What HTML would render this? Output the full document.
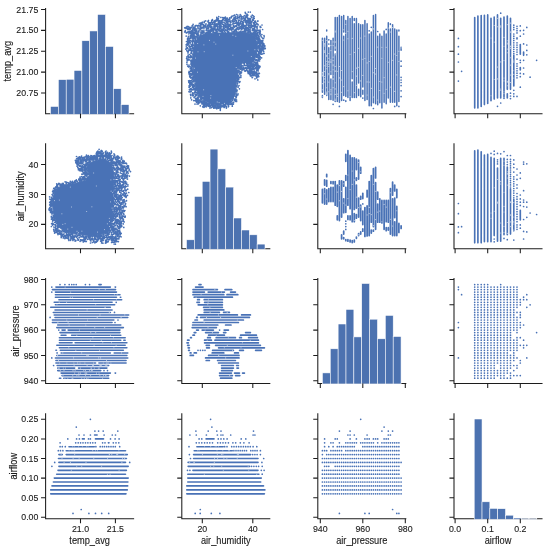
<!DOCTYPE html>
<html><head><meta charset="utf-8"><title>pairplot</title>
<style>html,body{margin:0;padding:0;background:#fff}svg text{font-family:"Liberation Sans",Arial,sans-serif;fill:#1c1c1c;stroke:#1c1c1c;stroke-width:.12px}</style>
</head><body><svg width="546" height="550" viewBox="0 0 546 550" style="display:block"><rect width="546" height="550" fill="#fff"/><path d="M45.60 8.60V113.80H133.60" fill="none" stroke="#1c1c1c" stroke-width="1.05" stroke-linecap="square"/><rect x="50.50" y="106.45" width="7.85" height="7.90" fill="#4c72b0" stroke="#fff" stroke-width=".55"/><rect x="58.35" y="79.65" width="7.85" height="34.70" fill="#4c72b0" stroke="#fff" stroke-width=".55"/><rect x="66.20" y="79.25" width="7.85" height="35.10" fill="#4c72b0" stroke="#fff" stroke-width=".55"/><rect x="74.05" y="70.45" width="7.85" height="43.90" fill="#4c72b0" stroke="#fff" stroke-width=".55"/><rect x="81.90" y="40.75" width="7.85" height="73.60" fill="#4c72b0" stroke="#fff" stroke-width=".55"/><rect x="89.75" y="30.95" width="7.85" height="83.40" fill="#4c72b0" stroke="#fff" stroke-width=".55"/><rect x="97.60" y="14.45" width="7.85" height="99.90" fill="#4c72b0" stroke="#fff" stroke-width=".55"/><rect x="105.45" y="46.45" width="7.85" height="67.90" fill="#4c72b0" stroke="#fff" stroke-width=".55"/><rect x="113.30" y="88.75" width="7.85" height="25.60" fill="#4c72b0" stroke="#fff" stroke-width=".55"/><rect x="121.15" y="104.65" width="7.85" height="9.70" fill="#4c72b0" stroke="#fff" stroke-width=".55"/><path d="M80.50 113.80v4.55M115.40 113.80v4.55M45.60 92.97h-4.55M45.60 72.10h-4.55M45.60 51.22h-4.55M45.60 30.35h-4.55M45.60 9.47h-4.55" stroke="#1c1c1c" stroke-width="1.05" fill="none"/><text transform="translate(38.35 96.08) scale(1 1.08)" text-anchor="end" font-size="8.8">20.75</text><text transform="translate(38.35 75.20) scale(1 1.08)" text-anchor="end" font-size="8.8">21.00</text><text transform="translate(38.35 54.33) scale(1 1.08)" text-anchor="end" font-size="8.8">21.25</text><text transform="translate(38.35 33.45) scale(1 1.08)" text-anchor="end" font-size="8.8">21.50</text><text transform="translate(38.35 12.58) scale(1 1.08)" text-anchor="end" font-size="8.8">21.75</text><text transform="translate(11.4 61.20) rotate(-90) scale(1 1.08)" text-anchor="middle" font-size="9.25">temp_avg</text><path d="M181.80 8.60V113.80H269.80" fill="none" stroke="#1c1c1c" stroke-width="1.05" stroke-linecap="square"/><path d="M210.6 25.2h0M191.0 53.3h0M231.7 101.6h0M192.6 36.8h0M196.1 28.9h0M189.3 32.3h0M193.7 47.8h0M195.2 36.8h0M228.2 25.0h0M217.4 106.9h0M253.7 22.6h0M254.0 32.6h0M196.0 100.8h0M244.7 19.8h0M246.5 67.8h0M237.2 85.1h0M190.7 95.6h0M192.3 94.4h0M202.7 102.5h0M254.9 73.8h0M198.0 28.7h0M203.0 103.3h0M188.8 38.5h0M260.0 58.7h0M209.1 24.6h0M225.8 30.3h0M217.4 31.8h0M212.8 28.5h0M215.4 105.6h0M189.8 29.6h0M191.0 60.3h0M240.6 21.8h0M195.4 100.6h0M209.3 24.8h0M263.7 47.5h0M191.6 70.9h0M195.1 32.4h0M251.8 66.6h0M214.2 29.6h0M261.0 52.7h0M223.9 26.9h0M228.7 106.1h0M197.8 33.2h0M193.2 33.3h0M225.2 32.5h0M190.6 55.5h0M190.3 84.4h0M247.3 14.3h0M192.4 48.1h0M194.3 29.8h0M252.6 28.8h0M258.8 46.0h0M256.5 53.7h0M263.0 45.7h0M253.5 74.1h0M247.7 32.1h0M257.2 73.9h0M189.4 89.5h0M257.8 34.4h0M245.2 28.1h0M246.1 20.4h0M230.2 24.2h0M190.2 68.8h0M187.7 38.4h0M228.6 31.6h0M194.6 88.7h0M221.2 29.2h0M251.1 23.2h0M196.1 100.7h0M260.0 66.4h0M198.2 104.0h0M253.6 68.7h0M218.0 20.0h0M252.7 19.7h0M257.9 60.4h0M237.6 75.3h0M262.7 46.4h0M192.3 74.6h0M256.8 59.8h0M200.6 28.8h0M260.0 56.5h0M224.6 25.8h0M203.4 24.6h0M223.2 19.2h0M196.8 33.4h0M195.3 100.7h0M212.4 104.8h0M214.2 24.5h0M195.1 27.0h0M234.6 31.5h0M259.5 61.0h0M258.7 39.2h0M257.2 42.1h0M244.5 30.2h0M248.3 24.8h0M193.6 40.7h0M191.3 65.1h0M238.7 29.6h0M256.0 34.2h0M251.3 27.2h0M186.8 50.6h0M246.0 26.7h0M236.5 96.5h0M246.3 70.4h0M190.5 49.3h0M255.7 64.2h0M259.8 54.0h0M227.0 30.7h0M219.3 23.9h0M189.8 27.3h0M254.1 16.5h0M258.0 41.3h0M258.5 59.2h0M214.6 29.1h0M192.1 65.6h0M193.2 95.7h0M190.9 27.5h0M191.6 68.8h0M188.7 42.6h0M257.0 23.9h0M196.6 31.3h0M188.4 36.3h0M228.2 106.8h0M238.7 72.1h0M192.4 40.3h0M206.8 29.3h0M247.0 15.9h0M191.8 60.6h0M239.8 74.1h0M198.5 95.9h0M225.6 27.5h0M239.7 27.8h0M193.8 27.8h0M258.2 36.8h0M245.5 19.6h0M249.7 23.8h0M259.8 67.0h0M258.9 73.3h0M186.0 28.3h0M256.7 57.1h0M211.9 104.7h0M197.0 36.9h0M235.4 16.3h0M192.8 28.9h0M193.6 86.1h0M247.0 21.4h0M206.4 28.6h0M244.4 63.9h0M253.4 17.9h0M258.4 55.4h0M241.7 65.3h0M254.7 21.4h0M256.8 36.8h0M253.0 30.0h0M190.1 73.5h0M196.5 36.7h0M212.4 107.0h0M229.4 19.3h0M226.8 19.6h0M226.0 26.5h0M200.6 25.1h0M250.8 68.1h0M197.2 37.4h0M218.1 20.7h0M196.6 94.5h0M216.8 17.4h0M190.2 36.9h0M257.4 50.6h0M254.4 26.7h0M255.5 64.5h0M240.2 68.0h0M210.8 24.2h0M246.4 27.9h0M209.9 108.0h0M210.1 24.5h0M189.0 65.0h0M237.7 80.3h0M197.8 99.5h0M254.3 24.1h0M193.9 81.2h0M189.1 71.4h0M237.1 24.6h0M189.9 60.0h0M207.2 28.8h0M187.6 41.8h0M192.4 71.4h0M244.3 15.7h0M234.7 19.4h0M204.0 107.3h0M207.3 26.0h0M256.7 66.2h0M222.0 22.0h0M256.6 53.9h0M208.3 20.7h0M203.6 100.9h0M252.8 65.9h0M239.1 70.8h0M239.2 69.0h0M194.9 92.1h0M192.8 34.8h0M219.2 22.3h0M257.9 20.9h0M197.8 99.5h0M245.1 17.9h0M221.4 26.0h0M263.7 51.3h0M215.2 26.7h0M204.2 22.3h0M240.4 28.1h0M220.3 109.7h0M260.3 33.0h0M249.1 23.8h0M253.8 75.0h0M235.6 96.6h0M191.4 27.5h0M252.3 34.6h0M194.5 29.6h0M260.0 32.4h0M196.8 31.5h0M229.0 24.7h0M250.6 21.4h0M191.5 56.3h0M187.5 39.1h0M187.2 26.5h0M195.5 98.6h0M250.6 71.0h0M193.3 32.8h0M205.0 101.8h0M257.0 66.7h0M213.6 31.1h0M214.2 105.4h0M225.7 26.8h0M222.7 19.6h0M193.0 54.7h0M224.2 107.4h0M217.6 24.7h0M228.0 104.9h0M252.3 25.5h0M232.3 106.2h0M193.2 27.9h0M243.9 28.6h0M244.9 15.8h0M194.1 29.1h0M220.4 108.2h0M256.4 62.6h0M193.9 87.4h0M221.2 107.0h0M244.6 31.4h0M217.0 107.9h0M246.0 22.8h0M225.4 17.2h0M195.2 94.4h0M204.9 106.1h0M192.4 87.4h0M237.5 78.7h0M188.1 55.2h0M254.8 35.5h0M256.7 77.9h0M226.4 26.4h0M190.9 61.8h0M223.2 24.6h0M238.9 24.9h0M203.4 105.3h0M201.1 32.7h0M237.6 81.8h0M212.4 19.6h0M219.9 28.8h0M259.6 56.1h0M240.8 73.6h0M260.1 33.4h0M255.8 34.6h0M200.5 101.1h0M192.0 77.4h0M216.8 25.4h0M260.3 54.0h0M257.9 30.4h0M189.6 74.7h0M208.6 103.6h0M236.6 100.0h0M258.6 47.7h0M216.9 26.5h0M248.3 68.5h0M193.7 33.1h0M217.7 106.4h0M213.8 29.2h0M192.7 66.3h0M256.6 31.5h0M260.4 40.4h0M196.4 33.1h0M228.0 23.2h0M234.7 99.1h0M238.6 17.7h0M191.3 62.4h0M231.4 17.7h0M234.5 30.3h0M238.4 21.0h0M187.7 29.4h0M258.9 36.5h0M197.0 25.7h0M259.6 48.6h0M190.5 82.5h0M243.0 66.1h0M248.2 73.4h0M236.3 94.8h0M252.4 77.4h0M190.7 56.7h0M235.4 16.5h0M217.6 18.7h0M226.4 108.1h0M188.8 44.4h0M255.3 31.7h0M254.2 18.3h0M260.2 27.4h0M250.3 64.3h0M191.9 61.1h0M239.0 85.6h0M215.5 21.6h0M197.1 94.5h0M251.8 70.5h0M208.7 33.1h0M191.1 44.6h0M245.9 21.5h0M208.7 31.3h0M257.0 42.0h0M214.9 23.0h0M212.4 22.9h0M257.3 30.0h0M191.7 89.8h0M189.9 81.2h0M231.1 24.8h0M245.5 13.3h0M230.8 101.6h0M246.5 15.7h0M235.1 19.7h0M192.8 34.7h0M219.6 107.7h0M253.4 67.3h0M195.3 36.3h0M260.0 41.0h0M211.0 30.1h0M196.8 34.8h0M208.9 23.7h0M194.1 27.3h0M259.8 44.0h0M258.6 45.4h0M247.8 67.8h0M248.3 25.4h0M211.7 104.3h0M258.5 36.3h0M188.8 82.2h0M247.7 71.8h0M254.5 65.1h0M190.6 57.3h0M243.5 62.7h0M260.3 40.5h0M235.6 29.4h0M257.9 74.9h0M216.6 31.1h0M202.4 102.9h0M190.0 90.1h0M198.6 25.4h0M197.8 35.2h0M189.5 31.9h0M188.2 28.0h0M233.0 15.9h0M206.8 105.2h0M204.9 25.5h0M258.6 68.7h0M197.9 35.6h0M260.3 57.1h0M250.0 32.0h0M202.3 100.7h0M190.5 49.9h0M228.4 19.6h0M257.8 21.2h0M194.1 33.2h0M249.9 68.3h0M237.1 28.2h0M191.1 75.4h0M233.5 21.4h0M239.2 68.4h0M212.6 29.5h0M190.9 56.9h0M192.4 70.1h0M240.9 75.6h0M258.8 65.5h0M242.1 25.1h0M196.2 99.8h0M227.0 21.1h0M261.7 43.7h0M241.2 18.6h0M196.2 101.5h0M264.1 48.1h0M257.6 39.9h0M189.6 83.0h0M262.9 49.9h0M240.7 73.0h0M242.8 26.6h0M202.4 22.3h0M201.4 24.8h0M217.0 108.6h0M189.3 59.9h0M228.0 28.1h0M246.7 17.5h0M205.6 33.3h0M191.2 63.5h0M258.6 39.4h0M223.1 19.8h0M258.5 36.1h0M242.3 21.4h0M255.3 35.3h0M250.4 69.0h0M194.3 86.3h0M243.9 28.6h0M240.1 16.6h0M242.3 26.5h0M255.0 78.8h0M202.0 104.0h0M237.8 23.7h0M225.0 30.8h0M237.8 15.1h0M243.5 31.5h0M192.9 37.5h0M248.8 28.2h0M211.7 28.3h0M258.4 41.8h0M247.4 28.8h0M195.4 25.7h0M251.1 65.2h0M189.8 84.4h0M207.9 30.5h0M240.0 81.7h0M248.0 68.1h0M192.1 89.9h0M188.4 51.4h0M212.9 32.1h0M195.0 93.9h0M192.1 79.9h0M191.8 53.2h0M250.8 26.0h0M239.7 27.4h0M190.4 40.7h0M260.0 66.7h0M243.5 67.3h0M215.4 24.1h0M201.1 30.7h0M225.7 19.6h0M201.8 24.2h0M203.9 28.7h0M249.0 65.9h0M193.3 87.8h0M258.9 40.0h0M238.1 28.0h0M256.0 33.6h0M188.4 37.5h0M201.6 27.9h0M196.7 101.3h0M215.4 32.7h0M210.4 106.1h0M225.8 17.9h0M260.6 49.7h0M254.2 66.1h0M246.7 24.2h0M250.1 29.5h0M248.9 22.0h0M217.4 29.4h0M211.2 26.3h0M193.7 27.7h0M260.7 44.5h0M191.4 50.0h0M262.4 47.2h0M248.8 30.2h0M253.1 74.0h0M241.0 21.0h0M247.2 67.9h0M239.7 28.7h0M189.9 47.4h0M191.8 74.5h0M248.2 30.7h0M204.9 105.3h0M197.6 98.5h0M190.2 66.8h0M259.6 43.1h0M232.3 104.8h0M250.2 20.6h0M208.4 30.8h0M263.2 53.3h0M192.0 33.9h0M240.2 22.6h0M220.2 22.0h0M191.7 41.0h0M253.0 65.9h0M217.1 108.0h0M195.0 104.1h0M243.3 24.2h0M246.3 65.6h0M254.1 62.6h0M219.4 26.1h0M254.2 33.3h0M254.3 66.1h0M216.0 25.9h0M247.6 64.2h0M220.4 106.2h0M264.1 53.3h0M198.9 35.2h0M193.3 76.7h0M200.3 23.5h0M196.5 100.5h0M259.4 38.3h0M218.4 23.1h0M243.9 68.4h0M261.2 45.9h0M236.8 90.8h0M265.3 48.4h0M257.0 69.2h0M242.0 70.6h0M208.4 28.4h0M192.5 72.4h0M188.8 33.8h0M261.0 36.0h0M221.2 29.3h0M206.2 106.8h0M207.9 21.7h0M192.0 67.7h0M213.3 29.5h0M232.3 20.7h0M205.6 106.2h0M191.1 32.2h0M187.6 32.2h0M240.9 71.8h0M200.5 101.3h0M187.0 41.5h0M242.4 27.6h0M227.8 24.1h0M190.2 86.2h0M252.1 77.6h0M252.1 70.9h0M192.7 60.3h0M254.6 23.9h0M206.8 27.0h0M205.7 20.9h0M244.7 65.5h0M250.6 19.1h0M202.4 34.0h0M239.4 25.0h0M188.5 38.8h0M240.5 23.8h0M248.1 20.2h0M232.4 100.3h0M219.6 23.3h0M238.3 24.8h0M230.1 104.3h0M195.6 29.0h0M257.8 54.7h0M191.0 60.5h0M237.4 18.6h0M190.4 83.4h0M252.3 26.2h0M211.2 27.2h0M194.7 32.4h0M259.8 53.4h0M258.4 51.8h0M243.9 68.3h0M256.6 77.3h0M216.9 29.7h0M189.9 77.1h0M239.5 73.7h0M250.1 31.3h0M197.7 100.9h0M254.5 71.2h0M251.4 70.6h0M239.1 28.2h0M263.0 38.5h0M249.1 31.6h0M192.5 83.8h0M228.2 29.6h0M256.8 54.0h0M218.7 108.2h0M257.3 60.9h0M222.0 22.7h0M224.1 25.3h0M200.9 35.1h0M219.4 27.6h0M223.0 32.3h0M196.6 102.2h0M204.9 32.8h0M221.0 106.9h0M255.8 30.1h0M241.6 66.1h0M196.8 37.1h0M233.4 25.4h0M249.2 29.8h0M211.2 105.3h0M189.5 83.3h0M188.6 28.8h0M238.3 78.4h0M196.7 30.3h0M196.0 91.6h0M212.3 20.3h0M240.6 31.6h0M259.4 46.3h0M255.8 38.2h0M243.1 68.6h0M256.9 35.0h0M240.2 72.1h0M259.5 42.0h0M223.0 22.0h0M230.9 22.4h0M205.5 26.1h0M225.3 18.3h0M192.7 70.1h0M260.5 45.6h0M192.6 42.7h0M208.3 27.0h0M243.1 16.9h0M213.1 105.7h0M234.3 23.4h0M194.6 36.1h0M216.0 20.9h0M258.8 66.7h0M203.9 102.8h0M259.0 42.5h0M249.5 18.7h0M197.9 26.2h0M254.5 31.2h0M205.9 24.8h0M243.2 23.1h0M257.5 41.8h0M248.9 67.1h0M260.1 26.3h0M219.1 28.6h0M193.0 50.0h0M258.0 24.7h0M224.3 106.8h0M258.9 60.9h0M245.9 25.9h0M190.9 32.3h0M258.4 75.6h0M245.5 68.4h0M235.8 18.3h0M225.1 25.4h0M195.5 37.1h0M253.8 71.6h0M252.9 69.2h0M227.4 20.1h0M210.9 29.4h0M192.5 77.7h0M245.5 25.6h0M246.6 16.3h0M212.2 104.4h0M193.1 76.0h0M192.5 78.5h0M253.8 29.2h0M251.0 32.6h0M204.4 103.7h0M261.7 41.4h0M201.7 34.4h0M194.1 35.5h0M212.8 106.8h0M186.7 26.9h0M202.7 33.4h0M203.6 24.8h0M187.8 39.8h0M247.6 66.3h0M245.6 29.0h0M246.1 68.2h0M187.5 42.0h0M193.6 81.4h0M215.3 25.2h0M236.8 91.8h0M204.2 102.7h0M247.3 27.7h0M190.4 33.0h0M211.5 22.0h0M188.0 52.9h0M194.9 27.3h0M240.0 23.1h0M258.1 70.0h0M262.6 29.5h0M224.9 20.7h0M236.4 31.2h0M195.5 30.4h0M250.7 27.9h0M223.6 19.6h0M191.8 82.6h0M245.2 12.3h0M203.8 101.2h0M259.1 32.7h0M218.8 21.6h0M233.0 28.3h0M253.7 65.8h0M230.7 27.0h0M206.4 103.2h0M222.8 19.9h0M200.3 28.4h0M216.5 24.2h0M189.1 57.2h0M237.3 80.9h0M199.5 28.8h0M253.7 63.7h0M192.5 93.1h0M261.4 48.2h0M210.2 23.0h0M255.9 75.3h0M189.0 46.4h0M253.9 69.5h0M256.8 33.9h0M202.4 100.4h0M218.6 20.0h0M261.3 51.7h0M248.7 18.9h0M188.3 29.3h0M227.3 30.9h0M220.4 26.9h0M216.0 105.5h0M200.9 26.9h0M214.5 106.2h0M241.8 24.9h0M194.1 97.4h0M209.2 105.1h0M186.2 36.1h0M219.4 25.2h0M198.3 103.3h0M250.4 63.8h0M246.5 63.1h0M225.0 29.3h0M250.2 65.3h0M256.0 26.3h0M253.6 29.3h0M255.5 32.3h0M192.7 84.6h0M190.3 28.9h0M203.3 103.6h0M192.2 38.4h0M239.3 17.6h0M189.0 57.1h0M214.3 106.1h0M198.2 33.8h0M225.1 105.1h0M238.2 22.4h0M191.0 34.3h0M258.4 73.4h0M262.3 43.0h0M257.2 32.5h0M256.5 65.5h0M236.5 23.5h0M253.1 35.0h0M254.6 64.5h0M220.6 28.8h0M257.6 64.2h0M250.9 33.4h0M220.7 25.8h0M188.8 43.0h0M258.2 68.5h0M202.0 28.6h0M194.4 92.5h0M255.3 22.4h0M249.9 71.0h0M243.1 28.1h0M192.6 32.1h0M192.3 50.4h0M191.0 48.8h0M218.2 22.8h0M213.9 32.4h0M241.9 29.5h0M259.0 42.9h0M258.4 66.1h0M196.3 100.0h0M206.2 30.6h0M245.1 28.1h0M230.2 21.1h0M188.3 29.6h0M190.5 77.2h0M202.7 106.8h0M215.7 32.0h0M224.7 106.2h0M250.7 33.5h0M259.6 38.8h0M240.3 77.1h0M232.9 99.2h0M247.6 65.6h0M191.2 73.9h0M187.6 60.4h0M237.0 23.4h0M201.5 101.6h0M232.1 29.2h0M261.6 43.4h0M259.0 39.4h0M208.5 20.6h0M252.7 33.0h0M246.7 25.0h0M249.5 74.1h0M192.5 95.7h0M254.4 71.3h0M202.4 24.5h0M218.6 29.9h0M262.0 25.0h0M258.1 37.1h0M194.2 79.9h0M251.4 71.6h0M194.4 30.2h0M241.7 67.6h0M187.2 26.4h0M224.4 105.2h0M219.0 30.8h0M226.2 22.7h0M226.3 106.7h0M222.1 106.3h0M202.4 102.7h0M188.1 58.8h0M214.7 21.9h0M211.7 20.4h0M249.0 26.2h0M254.9 65.6h0M254.3 31.0h0M192.8 30.7h0M193.5 81.5h0M232.8 103.1h0M201.0 28.4h0M207.4 32.8h0M189.8 57.7h0M214.0 21.6h0M257.3 37.6h0M262.7 47.8h0M247.9 71.2h0M258.5 66.6h0M221.2 30.6h0M255.1 36.5h0M227.7 23.4h0M235.7 16.8h0M216.7 32.7h0M257.8 76.5h0M254.6 28.8h0M258.3 67.3h0M210.1 27.6h0M223.4 26.5h0M252.3 64.5h0M256.9 23.6h0M231.6 16.3h0M256.5 36.1h0M253.2 66.0h0M255.9 68.7h0M254.0 35.2h0M260.0 46.4h0M217.0 19.6h0M261.9 34.5h0M259.3 30.7h0M253.0 19.6h0M202.3 32.4h0M204.5 105.2h0M209.8 25.6h0M203.4 32.7h0M241.1 67.0h0M261.8 42.6h0M188.6 67.0h0M201.9 27.7h0M190.1 31.4h0M258.2 57.2h0M190.8 70.7h0M191.5 83.6h0M258.1 46.2h0M242.0 28.2h0M209.5 33.1h0M214.6 23.6h0M247.2 17.1h0M220.3 106.5h0M248.5 22.8h0M260.0 47.6h0M209.1 25.2h0M257.3 50.5h0M253.8 32.8h0M192.1 68.2h0M264.4 45.3h0M221.7 32.1h0M262.0 40.5h0M195.1 27.1h0M256.9 27.8h0M220.9 31.4h0M262.9 45.0h0M195.3 91.9h0M213.9 26.3h0M247.2 27.9h0M263.3 48.8h0M261.3 54.2h0M258.6 66.9h0M214.7 29.1h0M254.4 75.1h0M239.4 77.4h0M192.3 82.0h0M197.4 33.8h0M191.4 60.5h0M262.0 50.8h0M229.6 24.4h0M189.3 39.1h0M254.5 27.6h0M234.3 21.3h0M195.7 95.8h0M252.3 66.0h0M257.7 67.3h0M256.7 62.9h0M237.1 90.2h0M236.1 93.7h0M241.7 68.4h0M242.9 68.6h0M235.6 99.3h0M211.7 28.3h0M236.4 85.9h0M239.3 82.5h0M234.4 100.4h0M207.8 25.2h0M238.5 81.2h0M205.5 27.0h0M251.3 26.0h0M191.0 53.3h0M217.6 105.8h0M258.6 40.9h0M198.2 103.4h0M206.7 102.6h0M220.3 31.3h0M256.6 60.5h0M211.6 22.4h0M192.7 64.4h0M227.6 32.1h0M221.1 23.1h0M189.6 49.9h0M234.5 27.1h0M236.0 23.1h0M191.3 32.2h0M192.7 92.9h0M193.7 77.5h0M253.1 15.8h0M237.3 22.8h0M229.3 28.4h0M245.4 17.1h0M216.7 19.2h0M191.4 31.9h0M238.6 79.1h0M253.3 73.9h0M259.2 50.0h0M256.6 23.4h0M206.0 23.8h0M194.4 38.2h0M256.3 73.9h0M241.8 27.3h0M189.8 32.7h0M258.1 68.5h0M257.7 60.9h0M250.3 23.1h0M238.2 87.1h0M187.1 43.6h0M257.0 50.1h0M184.7 31.9h0M260.6 52.6h0M192.1 50.5h0M220.9 28.0h0M212.7 106.2h0M256.3 30.5h0M190.0 50.1h0M201.3 102.2h0M258.9 40.2h0M203.0 106.5h0M230.0 102.2h0M258.6 73.7h0M231.2 17.1h0M241.1 19.3h0M193.8 32.0h0M192.8 41.5h0M210.4 29.9h0M229.0 21.5h0M216.7 108.7h0M251.7 68.4h0M192.4 41.2h0M253.4 32.7h0M195.6 94.7h0M219.3 22.0h0M234.6 17.4h0M189.3 74.4h0M230.5 28.3h0M193.1 24.4h0M258.1 24.5h0M218.5 24.4h0M242.7 23.7h0M243.8 20.6h0M223.0 28.9h0M200.2 28.4h0M219.4 22.6h0M243.4 25.5h0M217.0 21.0h0M223.3 29.1h0M218.8 16.7h0M224.0 17.6h0M217.3 26.6h0M264.0 35.6h0M250.1 74.2h0M233.5 27.0h0M233.3 31.5h0M241.0 28.5h0M259.2 59.4h0M228.4 32.0h0M213.3 30.7h0M220.6 24.6h0M257.6 34.7h0M192.0 57.3h0M191.8 68.9h0M238.0 27.3h0M190.0 48.8h0M255.8 60.4h0M263.6 38.6h0M190.9 63.9h0M205.7 104.4h0M200.3 105.8h0M250.1 64.4h0M255.6 62.7h0M250.5 32.2h0M228.0 23.2h0M193.2 93.8h0M242.5 26.9h0M189.5 42.6h0M223.8 26.1h0M264.2 48.2h0M188.6 56.7h0M188.5 44.6h0M257.6 32.8h0M189.5 54.5h0M193.2 80.1h0M249.8 66.0h0M192.7 63.1h0M211.2 31.3h0M190.8 80.9h0M250.2 75.0h0M228.3 27.5h0M261.0 48.4h0M208.2 104.8h0M187.4 43.9h0M198.7 31.4h0M234.5 17.9h0M192.6 61.6h0M229.6 21.2h0M211.3 107.7h0M255.4 73.0h0M187.7 39.7h0M240.8 77.4h0M240.6 21.8h0M190.5 38.4h0M217.8 19.0h0M233.4 19.6h0M195.0 28.7h0M218.9 24.6h0M250.2 65.7h0M260.6 50.3h0M191.6 30.8h0M239.5 68.1h0M210.5 23.9h0M248.3 28.9h0M219.1 30.2h0M222.1 20.6h0M254.7 62.1h0M250.5 75.9h0M214.0 21.2h0M259.4 57.4h0M205.0 26.5h0M245.1 68.4h0M207.3 103.7h0M252.7 64.1h0M212.2 22.3h0M251.4 24.7h0M198.8 103.1h0M251.5 75.9h0M254.0 71.9h0M216.7 107.2h0M209.1 23.2h0M204.3 21.4h0M249.9 68.8h0M219.3 106.3h0M258.5 35.4h0M185.5 27.6h0M238.2 76.7h0M237.0 80.3h0M258.7 53.3h0M262.5 44.0h0M218.4 18.6h0M221.4 106.3h0M240.7 69.3h0M259.7 39.0h0M193.3 39.0h0M259.7 52.4h0M249.5 23.5h0M229.6 21.6h0M220.9 17.4h0M262.7 47.0h0M256.9 27.4h0M250.6 33.3h0M259.1 67.9h0M192.1 51.1h0M206.0 106.2h0M260.3 31.6h0M192.7 45.7h0M226.2 107.2h0M252.3 71.4h0M211.2 107.3h0M202.8 32.6h0M257.3 66.3h0M235.1 100.1h0M185.3 30.6h0M191.7 80.9h0M233.3 28.8h0M261.6 42.3h0M248.7 67.9h0M194.8 96.9h0M200.6 33.0h0M259.1 32.2h0M204.9 102.7h0M205.4 102.7h0M216.8 32.3h0M253.3 72.7h0M251.4 71.3h0M187.9 48.5h0M241.4 72.7h0M240.0 66.7h0M250.9 75.1h0M212.0 26.9h0M254.6 71.9h0M257.6 51.5h0M209.8 30.8h0M203.9 101.5h0M192.1 25.9h0M244.4 62.7h0M220.5 25.3h0M257.9 38.6h0M197.9 101.9h0M249.9 24.1h0M192.8 26.1h0M209.5 32.5h0M188.1 43.1h0M186.1 44.8h0M214.5 21.1h0M249.5 27.7h0M241.5 17.9h0M242.0 18.6h0M262.3 45.8h0M210.5 26.9h0M246.8 63.8h0M187.5 41.5h0M217.4 19.0h0M200.0 101.1h0M237.7 95.0h0M204.1 103.4h0M252.3 66.8h0M194.8 91.8h0M196.3 92.6h0M206.4 103.3h0M232.8 24.1h0M235.5 23.2h0M254.2 33.9h0M222.7 17.6h0M221.2 22.3h0M258.8 76.6h0M193.3 48.4h0M189.9 71.8h0M190.5 94.3h0M200.4 29.2h0M249.9 25.4h0M257.9 48.4h0M200.2 23.6h0M192.8 50.1h0M189.4 81.6h0M217.3 31.8h0M264.2 36.8h0M252.2 30.0h0M197.1 93.2h0M201.6 33.8h0M238.5 20.0h0M206.4 29.8h0M256.5 39.0h0M236.3 95.7h0M213.8 107.1h0M255.0 68.7h0M247.5 65.6h0M211.6 29.6h0M253.8 25.6h0M197.8 34.6h0M259.2 49.6h0M239.7 24.0h0M248.9 66.0h0M189.0 41.3h0M198.0 98.9h0M235.6 96.4h0M237.0 29.4h0M209.5 24.6h0M222.8 24.3h0M252.0 26.2h0M257.0 31.1h0M198.6 102.1h0M225.7 19.1h0M241.0 15.5h0M249.5 72.2h0M221.7 26.6h0M258.7 54.5h0M200.2 99.7h0M247.0 23.1h0M262.0 49.3h0M256.7 70.3h0M259.0 48.0h0M203.5 103.9h0M252.2 75.1h0M259.5 32.3h0M190.9 27.9h0M223.7 18.8h0M198.7 97.8h0M239.5 25.0h0M258.7 53.4h0M251.2 73.3h0M204.1 103.9h0M187.0 64.3h0M246.0 30.7h0M233.8 26.0h0M196.5 33.9h0M213.3 22.3h0M252.5 25.9h0M253.5 23.1h0M247.8 67.2h0M223.1 105.8h0M219.4 23.9h0M253.5 66.5h0M232.8 21.7h0M262.8 38.5h0M224.2 22.7h0M253.2 75.2h0M259.2 36.8h0M209.8 24.2h0M263.1 43.4h0M250.5 31.1h0M232.3 100.4h0M212.5 105.2h0M256.2 75.7h0M217.9 26.5h0M220.3 30.9h0M186.5 41.5h0M245.4 18.4h0M250.5 70.6h0M248.8 32.8h0M235.6 101.2h0M258.2 39.6h0M259.1 43.2h0M213.0 106.5h0M254.9 32.4h0M241.1 20.7h0M187.4 60.2h0M193.6 78.2h0M240.3 22.3h0M197.0 104.0h0M245.4 67.6h0M223.2 18.5h0M230.7 22.3h0M235.7 19.6h0M207.9 31.3h0M192.1 61.4h0M199.4 23.4h0M224.9 18.1h0M250.4 68.3h0M256.3 34.1h0M213.0 30.7h0M205.4 103.2h0M262.4 46.5h0M253.0 34.4h0M237.7 78.1h0M215.5 30.1h0M202.3 27.5h0M204.0 26.6h0M191.6 64.2h0M228.0 20.4h0M188.4 59.8h0M262.6 42.4h0M260.6 44.9h0M261.0 52.1h0M196.1 98.8h0M253.9 75.7h0M253.2 71.4h0M215.7 106.5h0M226.8 24.7h0M209.6 26.4h0M255.2 31.4h0M248.4 31.6h0M249.7 31.0h0M189.0 91.7h0M192.6 43.6h0M191.4 35.3h0M259.8 33.9h0M256.2 56.8h0M197.2 99.9h0M187.2 60.7h0M239.7 16.6h0M221.6 106.2h0M225.1 24.1h0M191.6 78.0h0M252.9 28.6h0M245.5 22.3h0M190.4 46.7h0M195.6 91.0h0M207.3 27.0h0M246.2 65.4h0M231.5 104.3h0M192.3 64.5h0M251.1 16.4h0M188.4 26.5h0M189.3 74.5h0M201.3 101.1h0M251.8 71.8h0M198.8 103.0h0M191.3 74.8h0M256.9 38.6h0M187.3 60.0h0M240.0 73.8h0M235.4 20.2h0M194.9 29.6h0M191.3 74.0h0M202.2 23.2h0M222.3 24.0h0M194.7 30.3h0M191.2 89.2h0M192.8 89.5h0M254.0 24.5h0M192.8 86.7h0M249.4 21.7h0M204.0 101.0h0M252.0 21.5h0M230.9 27.4h0M258.7 38.8h0M252.8 30.6h0M251.9 34.0h0M188.6 80.8h0M263.7 47.1h0M214.2 26.7h0M225.8 105.3h0M253.2 63.5h0M186.3 46.8h0M211.6 28.2h0M250.4 18.6h0M237.4 23.6h0M192.7 81.8h0M210.4 105.1h0M208.0 27.2h0M214.2 107.2h0M244.3 63.9h0M240.7 66.3h0M228.0 26.5h0M263.6 47.3h0M229.7 17.9h0M249.2 25.8h0M247.8 15.0h0M187.5 32.5h0M245.5 71.1h0M257.9 64.0h0M217.1 107.0h0M194.4 85.0h0M200.1 101.4h0M258.3 57.9h0M239.4 71.2h0M239.4 73.8h0M214.1 24.9h0M192.1 41.8h0M190.8 33.2h0M246.9 70.4h0M233.1 22.0h0M236.3 20.5h0M233.1 98.4h0M237.0 78.4h0M186.9 56.9h0M243.1 65.8h0M220.6 30.6h0M203.2 102.9h0M189.2 85.6h0M240.0 22.7h0M236.1 30.9h0M249.3 67.2h0M224.7 31.4h0M188.4 57.1h0M237.4 16.8h0M198.0 27.7h0M187.7 66.1h0M186.9 28.4h0M228.2 104.7h0M231.9 30.9h0M229.6 29.8h0M211.7 28.5h0M249.5 22.9h0M242.3 69.5h0M189.3 32.3h0M188.1 55.4h0M221.9 29.9h0M250.9 27.4h0M200.9 22.9h0M241.3 26.1h0M203.3 26.1h0M241.7 21.5h0M191.0 53.4h0M247.7 15.4h0M262.7 42.2h0M240.3 68.7h0M198.0 97.2h0M249.9 66.4h0M259.9 43.2h0M261.0 41.6h0M250.5 22.3h0M196.8 95.5h0M258.5 41.7h0M245.8 13.7h0M256.6 39.1h0M208.8 22.5h0M218.9 22.7h0M233.6 31.5h0M236.7 91.3h0M211.4 107.6h0M203.7 31.2h0M191.9 80.1h0M191.5 62.4h0M190.1 42.4h0M248.7 26.6h0M259.8 58.7h0M257.2 56.8h0M230.9 28.9h0M239.5 17.9h0M192.7 74.6h0M190.6 88.9h0M197.2 98.1h0M188.9 87.0h0M232.0 27.4h0M239.4 20.3h0M246.7 68.8h0M219.8 20.9h0M244.1 31.7h0M260.2 43.7h0M263.5 48.9h0M227.2 27.8h0M256.4 57.2h0M242.3 68.0h0M201.5 32.4h0M211.9 22.0h0M249.0 29.9h0M199.5 102.7h0M194.8 32.0h0M186.6 58.6h0M200.0 27.1h0M192.2 47.1h0M255.3 72.8h0M192.9 95.5h0M245.1 25.3h0M197.1 98.8h0M229.6 19.1h0M189.5 73.3h0M192.5 29.5h0M192.1 35.8h0M201.1 32.0h0M207.5 32.6h0M256.2 71.9h0M187.6 38.4h0M260.1 59.3h0M257.3 50.3h0M235.4 18.8h0M233.9 17.9h0M251.5 75.8h0M255.6 24.9h0M188.5 31.8h0M191.2 50.5h0M189.4 66.5h0M261.4 37.0h0M264.8 45.6h0M257.4 26.8h0M253.3 20.2h0M185.5 31.8h0M214.9 25.0h0M195.8 31.4h0M254.5 22.8h0M196.2 99.8h0M257.7 43.2h0M252.1 63.5h0M236.4 21.9h0M236.7 95.6h0M204.7 27.0h0M241.5 28.3h0M259.4 55.7h0M238.8 25.7h0M248.1 21.1h0M191.6 99.8h0M189.5 87.5h0M257.0 35.2h0M257.8 47.9h0M254.5 30.3h0M258.5 43.1h0M233.1 98.0h0M256.4 67.7h0M192.7 34.4h0M199.7 100.5h0M207.5 104.3h0M260.7 51.2h0M205.1 104.2h0M258.9 38.0h0M224.2 28.0h0M255.9 60.0h0M254.3 74.9h0M216.6 25.5h0M245.7 29.2h0M233.5 28.9h0M233.1 19.4h0M236.4 14.5h0M226.1 25.0h0M237.1 29.0h0M185.8 49.1h0M260.0 42.6h0M209.2 103.4h0M258.9 58.7h0M256.0 36.4h0M260.5 41.1h0M250.9 64.1h0M193.9 41.5h0M240.1 26.9h0M212.9 31.9h0M191.2 52.0h0M221.5 21.0h0M253.4 33.1h0M233.6 102.4h0M259.7 51.2h0M188.4 51.5h0M253.1 19.1h0M251.9 73.3h0M221.2 20.5h0M237.9 81.0h0M248.8 72.4h0M207.6 33.1h0M244.4 28.8h0M217.6 27.7h0M200.5 24.5h0M249.4 69.0h0M230.8 29.6h0M192.0 45.0h0M244.5 64.5h0M200.6 34.8h0M212.0 24.5h0M255.6 21.4h0M217.9 23.8h0M187.1 44.6h0M190.8 36.8h0M243.9 18.7h0M189.4 50.2h0M250.6 21.8h0M255.5 21.2h0M209.7 104.2h0M204.0 30.9h0M240.8 66.9h0M189.6 74.7h0M236.8 31.9h0M208.1 33.2h0M248.7 68.3h0M256.6 23.1h0M193.8 28.7h0M236.6 90.1h0M241.5 29.3h0M192.6 73.5h0M230.8 21.1h0M256.7 76.5h0M255.1 21.8h0M193.1 85.5h0M197.0 36.4h0M197.0 98.2h0M260.5 40.3h0M220.7 24.2h0M216.5 23.8h0M191.5 67.3h0M254.4 31.6h0M257.5 62.7h0M253.5 73.3h0M195.5 89.4h0M249.1 22.3h0M206.7 27.0h0M254.3 24.8h0M192.0 37.3h0M241.8 26.6h0M247.9 22.8h0M260.0 46.7h0M247.9 20.4h0M256.0 65.0h0M184.7 27.8h0M237.3 76.8h0M228.5 104.5h0M262.8 40.6h0M194.0 88.4h0M253.2 67.4h0M234.9 100.7h0M198.8 31.9h0M236.7 25.7h0M250.4 66.7h0M228.1 32.2h0M230.6 102.8h0M189.6 28.1h0M253.0 64.4h0M198.5 31.2h0M190.8 97.9h0M223.4 27.4h0M225.9 23.1h0M190.4 35.6h0M191.9 62.0h0M236.0 21.8h0M249.1 19.9h0M194.2 88.3h0M259.1 38.7h0M259.5 43.4h0M193.8 45.5h0M186.4 28.5h0M195.6 36.7h0M244.4 26.3h0M195.1 30.3h0M253.4 34.1h0M249.7 68.8h0M187.8 41.5h0M252.3 20.6h0M255.1 67.1h0M195.2 25.9h0M237.8 22.9h0M241.5 72.6h0M205.7 27.1h0M251.3 72.9h0M192.4 86.1h0M194.1 34.7h0M258.8 38.0h0M234.5 17.6h0M189.2 40.5h0M257.0 34.3h0M190.3 37.9h0M224.2 18.3h0M257.8 79.9h0M239.3 20.4h0M221.6 26.5h0M241.7 16.6h0M188.3 41.4h0M257.1 68.9h0M262.0 42.9h0M202.2 22.4h0M260.1 34.8h0M197.0 32.9h0M255.9 75.9h0M190.7 71.3h0M254.0 28.5h0M215.0 27.7h0M254.7 25.9h0M257.4 43.4h0M259.5 53.6h0M239.3 67.8h0M257.2 33.1h0M227.9 26.0h0M227.8 29.2h0M240.3 31.7h0M229.9 19.0h0M220.3 110.3h0M252.4 64.1h0M234.4 15.2h0M235.9 30.0h0M192.9 78.8h0M254.1 62.1h0M186.4 32.9h0M206.6 32.7h0M192.7 93.7h0M256.5 35.9h0M233.4 104.1h0M252.1 67.5h0M251.7 17.4h0M250.2 26.0h0M257.5 33.5h0M249.5 69.6h0M191.6 62.4h0M247.8 18.7h0M223.6 30.3h0M191.7 53.5h0M258.0 75.8h0M201.8 23.2h0M215.3 21.1h0M265.2 48.6h0M252.5 67.7h0M212.8 104.6h0M238.8 78.9h0M249.1 24.0h0M194.0 85.9h0M243.3 22.5h0M190.7 78.0h0M229.0 26.0h0M198.6 99.9h0M247.5 30.5h0M191.8 74.4h0M217.1 25.8h0M217.7 29.7h0M206.9 105.4h0M194.2 82.1h0M243.3 26.7h0M236.2 97.7h0M193.8 100.6h0M193.1 27.6h0M228.1 104.0h0M252.1 34.5h0M252.1 65.5h0M236.0 91.3h0M246.1 29.8h0M238.5 23.4h0M244.0 63.7h0M260.9 27.2h0M243.8 18.1h0M191.5 60.2h0M200.1 100.4h0M189.1 73.4h0M227.4 27.6h0M256.7 59.5h0M193.4 74.0h0M263.5 44.9h0M191.5 56.7h0M253.8 26.4h0M191.9 44.8h0M193.4 37.9h0M239.4 16.4h0M188.3 56.9h0M245.4 12.9h0M221.4 29.2h0M216.7 24.5h0M263.8 49.0h0M200.0 27.0h0M189.3 45.8h0M252.8 67.0h0M252.3 15.2h0M245.2 21.0h0M223.7 25.5h0M208.1 31.8h0M262.4 54.0h0M226.1 20.8h0M189.5 91.8h0M227.0 29.0h0M242.7 22.6h0M193.9 85.1h0M207.0 29.1h0M227.6 104.0h0M248.7 71.1h0M227.4 18.2h0M233.1 23.5h0M264.8 46.4h0M227.5 22.2h0M215.3 107.9h0M257.6 68.6h0M254.2 18.4h0M198.9 35.9h0M260.0 57.0h0M259.3 54.1h0M206.0 33.4h0M251.5 69.6h0M210.0 22.6h0M192.8 35.1h0M257.3 56.4h0M235.9 88.9h0M213.4 28.2h0M249.5 73.7h0M217.5 106.2h0M190.3 42.9h0M233.3 19.7h0M240.9 76.9h0M211.7 30.4h0M194.7 32.8h0M197.1 100.3h0M252.8 20.0h0M258.1 71.0h0M229.1 103.7h0M209.4 106.5h0M224.3 105.4h0M218.0 23.7h0M236.1 101.4h0M257.9 73.8h0M191.6 66.8h0M189.4 42.2h0M197.5 36.0h0M236.3 26.5h0M190.7 57.7h0M237.5 83.4h0M257.9 76.8h0M245.7 31.7h0M194.2 89.9h0M246.1 28.8h0M229.2 26.2h0M227.4 20.2h0M254.1 72.4h0M243.6 27.0h0M260.7 52.1h0M227.7 21.9h0M193.2 45.5h0M238.6 75.6h0M259.5 39.2h0M188.7 50.1h0M191.6 85.0h0M244.5 25.7h0M236.1 29.1h0M195.2 38.9h0M185.2 28.0h0M191.2 88.9h0M237.5 83.5h0M255.3 33.9h0M249.5 20.0h0M191.8 31.4h0M212.8 23.9h0M248.4 18.4h0M190.9 91.6h0M191.7 69.6h0M263.9 43.9h0M191.7 46.1h0M246.8 23.1h0M209.2 25.8h0M256.1 75.8h0M260.1 30.2h0M263.6 43.5h0M244.7 70.9h0M240.4 31.6h0M244.0 69.4h0M251.8 72.8h0M255.4 26.8h0M236.8 86.8h0M230.1 25.9h0M260.4 43.4h0M197.7 26.1h0M256.8 38.1h0M186.7 48.7h0M225.9 18.6h0M196.8 101.9h0M193.7 84.6h0M192.2 45.5h0M201.3 102.6h0M189.9 85.9h0M187.4 51.3h0M259.5 45.6h0M258.0 25.0h0M237.9 24.2h0M243.5 69.6h0M196.7 98.3h0M239.4 88.8h0M217.2 28.7h0M236.6 101.5h0M256.4 55.2h0M261.6 57.8h0M192.2 72.1h0M192.3 89.8h0M204.4 106.8h0M191.2 91.5h0M249.7 73.4h0M257.2 65.4h0M229.0 32.7h0M226.2 21.4h0M228.3 29.1h0M202.7 30.9h0M257.1 28.6h0M235.3 25.9h0M186.9 62.4h0M258.2 68.9h0M210.4 32.3h0M188.8 72.5h0M236.1 22.3h0M203.8 27.6h0M199.1 30.7h0M190.0 82.1h0M258.5 30.4h0M240.2 14.7h0M223.0 106.7h0M193.3 44.8h0M189.3 29.0h0M193.6 36.7h0M189.7 76.6h0M242.1 18.6h0M254.9 59.0h0M191.1 67.4h0M250.8 72.2h0M223.9 106.0h0M220.6 31.4h0M240.7 15.1h0M257.0 64.3h0M202.2 33.2h0M189.1 31.9h0M196.4 25.6h0M188.0 37.8h0M206.2 103.0h0M193.4 95.4h0M190.0 92.0h0M250.3 12.1h0M195.6 33.5h0M256.7 72.6h0M195.8 91.9h0M251.7 27.2h0M261.8 46.8h0M248.6 20.9h0M189.7 80.5h0M262.5 38.1h0M246.8 69.6h0M213.8 108.2h0M250.5 21.2h0M215.4 20.3h0M248.3 12.1h0M242.3 23.2h0M223.0 20.1h0M231.3 103.4h0M215.4 29.3h0M255.8 30.3h0M214.3 106.4h0M189.8 81.7h0M187.4 47.7h0M248.7 65.1h0M189.7 74.9h0M189.1 32.0h0M242.6 26.8h0M198.2 101.1h0M243.5 22.3h0M192.5 65.2h0M240.7 23.3h0M192.9 75.1h0M261.6 50.7h0M214.4 28.7h0M242.8 31.6h0M260.2 41.0h0M228.4 26.5h0M218.4 107.0h0M224.8 104.9h0M199.8 26.1h0M259.4 73.4h0M204.3 101.0h0M240.9 31.0h0M209.5 30.3h0M254.1 74.5h0M208.2 106.2h0M218.2 107.8h0M247.3 14.4h0M237.4 17.9h0M190.9 36.9h0M204.2 22.6h0M187.2 45.2h0M192.9 40.6h0M191.7 56.5h0M192.5 81.6h0M216.9 31.1h0M238.0 93.9h0M236.1 29.3h0M222.6 30.9h0M234.8 26.5h0M209.3 24.9h0M213.1 32.3h0M256.5 75.1h0M251.7 22.4h0M208.9 30.2h0M242.3 18.9h0M213.0 105.6h0M257.5 57.4h0" stroke="#4972b6" stroke-width="1.7" stroke-linecap="round" fill="none"/><path d="M228.9 103.5L235.0 95.5L236.7 79.3L239.3 66.7L243.7 61.7L248.9 64.2L253.3 63.0L255.9 55.5L257.6 45.5L255.0 36.7L249.8 33.5L241.1 31.7L228.9 33.0L214.9 33.0L202.7 34.2L194.9 39.2L192.6 58.0L193.7 75.5L195.8 90.5L201.0 99.3L211.4 104.0L220.2 106.0Z" fill="#4972b6" stroke="#4972b6" stroke-width="1" stroke-linejoin="round"/><path d="M219.5 35.1h0M224.5 103.4h0M197.4 72.2h0M202.1 34.4h0M217.2 102.0h0M197.7 43.5h0M198.0 51.8h0M236.2 67.5h0M238.0 69.3h0M219.1 102.6h0M232.9 35.3h0M194.8 82.4h0M194.3 68.3h0M232.9 55.2h0M203.9 44.9h0M195.4 58.1h0M214.0 42.2h0M196.5 39.1h0M210.7 98.1h0M210.9 95.6h0M203.7 89.8h0M196.7 91.4h0M235.8 36.3h0M251.3 56.5h0M203.0 96.4h0M215.8 44.1h0M222.1 104.6h0M209.6 40.4h0M253.0 62.8h0M247.9 51.0h0M204.2 51.7h0M254.9 49.7h0M202.8 99.9h0" stroke="#fff" stroke-width="0.9" stroke-linecap="round" fill="none" opacity="0.75"/><path d="M202.30 113.80v4.55M252.80 113.80v4.55M181.80 92.97h-4.55M181.80 72.10h-4.55M181.80 51.22h-4.55M181.80 30.35h-4.55M181.80 9.47h-4.55" stroke="#1c1c1c" stroke-width="1.05" fill="none"/><path d="M317.80 8.60V113.80H405.80" fill="none" stroke="#1c1c1c" stroke-width="1.05" stroke-linecap="square"/><path d="M401.1 50.2V47.3M398.9 101.6V36.2M398.9 30.9V30.0M396.8 105.8V30.0M394.7 102.3V28.9M392.6 102.3V24.8M390.4 102.3V28.9M390.4 24.6V23.7M388.3 98.1V22.7M386.2 103.7V34.1M384.1 102.3V31.0M381.9 107.9V36.2M379.8 102.7V34.1M377.7 104.8V36.2M375.6 103.7V14.4M373.4 102.7V15.4M371.3 105.8V32.1M369.2 105.8V34.1M367.1 99.6V23.7M364.9 100.6V20.6M362.8 94.3V90.3M362.8 87.1V24.8M360.7 96.8V24.8M358.6 95.4V89.3M358.6 82.9V23.7M356.4 97.5V18.5M354.3 97.5V23.7M354.3 20.5V18.5M352.2 97.5V82.0M352.2 78.7V16.4M350.1 100.6V18.5M347.9 97.5V16.4M345.8 101.6V100.8M345.8 96.4V20.6M343.7 95.4V36.2M343.7 31.9V15.4M341.6 100.6V16.4M339.4 102.3V15.4M337.3 101.6V17.5M335.2 101.6V53.9M335.2 50.2V17.5M333.1 100.2V38.3M330.9 99.6V78.9M330.9 74.6V40.4M328.8 99.6V47.7M326.7 95.4V36.2M326.7 30.9V30.0M324.6 94.3V38.3M322.4 97.5V95.5M322.4 92.3V38.3" stroke="#4972b6" stroke-width="1.5" stroke-linecap="round" fill="none"/><path d="M401.1 96.6h0M401.1 90.8h0M401.1 85.6h0M401.1 82.5h0M401.1 80.0h0M401.1 77.3h0M401.1 66.2h0M401.1 61.2h0M398.9 106.4h0M394.7 106.4h0M386.2 29.4h0M377.7 31.5h0M373.4 108.5h0M371.3 27.3h0M369.2 30.8h0M362.8 98.1h0M343.7 100.2h0M339.4 106.4h0M333.1 104.3h0M328.8 44.0h0M328.8 39.8h0" stroke="#4972b6" stroke-width="1.7" stroke-linecap="round" fill="none"/><path d="M401.1 47.9h0M398.9 61.5h0M398.9 51.2h0M396.8 55.5h0M396.8 74.9h0M394.7 91.4h0M394.7 54.0h0M392.6 27.5h0M392.6 60.3h0M390.4 87.1h0M390.4 32.0h0M388.3 62.2h0M388.3 28.0h0M386.2 47.3h0M386.2 89.2h0M384.1 93.2h0M384.1 77.6h0M381.9 47.2h0M381.9 58.2h0M381.9 82.0h0M379.8 81.5h0M379.8 90.5h0M377.7 100.0h0M377.7 47.1h0M375.6 74.0h0M375.6 68.5h0M373.4 72.7h0M373.4 28.9h0M373.4 97.0h0M371.3 88.4h0M371.3 56.3h0M369.2 61.5h0M369.2 82.1h0M367.1 81.9h0M367.1 62.9h0M367.1 95.0h0M364.9 58.5h0M364.9 36.1h0M362.8 59.2h0M362.8 75.4h0M360.7 38.0h0M360.7 80.9h0M358.6 67.3h0M358.6 48.3h0M356.4 76.1h0M356.4 85.3h0M356.4 68.1h0M354.3 52.4h0M354.3 92.6h0M352.2 38.4h0M352.2 71.6h0M350.1 54.2h0M350.1 96.6h0M347.9 31.2h0M347.9 90.7h0M347.9 38.8h0M345.8 24.3h0M345.8 33.4h0M343.7 40.0h0M343.7 86.6h0M343.7 29.7h0M341.6 80.0h0M341.6 70.5h0M341.6 92.2h0M339.4 66.5h0M339.4 77.9h0M337.3 71.3h0M337.3 94.1h0M337.3 96.4h0M335.2 70.7h0M335.2 99.1h0M335.2 54.7h0M335.2 66.4h0M335.2 82.7h0M335.2 94.4h0M335.2 66.5h0M335.2 100.4h0M335.2 88.9h0M335.2 71.4h0M335.2 32.0h0M335.2 41.8h0M335.2 48.2h0M335.2 47.1h0M335.2 48.0h0M335.2 42.3h0M335.2 31.1h0M333.1 79.4h0M333.1 60.6h0M333.1 87.7h0M333.1 57.0h0M333.1 45.6h0M333.1 64.8h0M333.1 75.8h0M333.1 41.9h0M333.1 87.5h0M333.1 78.5h0M333.1 57.2h0M333.1 69.7h0M333.1 65.8h0M330.9 90.0h0M330.9 91.7h0M330.9 94.8h0M330.9 89.6h0M330.9 93.9h0M330.9 71.8h0M330.9 45.6h0M330.9 61.5h0M330.9 59.9h0M330.9 50.6h0M330.9 62.4h0M330.9 45.2h0M328.8 66.5h0M328.8 61.4h0M328.8 64.2h0M328.8 53.5h0M328.8 91.8h0M328.8 58.2h0M328.8 74.8h0M328.8 62.6h0M328.8 61.2h0M328.8 82.1h0M328.8 73.6h0M326.7 64.0h0M326.7 94.8h0M326.7 93.3h0M326.7 66.0h0M326.7 68.8h0M326.7 94.1h0M326.7 87.7h0M326.7 56.3h0M326.7 55.2h0M326.7 40.5h0M326.7 92.1h0M326.7 61.2h0M324.6 76.5h0M324.6 51.3h0M324.6 43.6h0M324.6 44.8h0M324.6 78.9h0M324.6 71.6h0M324.6 50.8h0M324.6 46.0h0M324.6 65.8h0M324.6 82.0h0M324.6 52.5h0M322.4 96.7h0M322.4 83.5h0M322.4 75.9h0M322.4 74.9h0M322.4 83.8h0M322.4 75.3h0M322.4 89.7h0M322.4 72.4h0M322.4 75.5h0M322.4 73.1h0M322.4 40.3h0M322.4 76.0h0" stroke="#fff" stroke-width="1.1" stroke-linecap="round" fill="none" opacity="0.65"/><path d="M320.30 113.80v4.55M362.80 113.80v4.55M405.30 113.80v4.55M317.80 92.97h-4.55M317.80 72.10h-4.55M317.80 51.22h-4.55M317.80 30.35h-4.55M317.80 9.47h-4.55" stroke="#1c1c1c" stroke-width="1.05" fill="none"/><path d="M454.00 8.60V113.80H542.00" fill="none" stroke="#1c1c1c" stroke-width="1.05" stroke-linecap="square"/><path d="M474.7 107.9V17.5M477.9 107.9V16.0M481.2 106.4V15.5M484.4 104.6V15.3M487.7 103.5V14.9M491.0 100.7V18.2M494.2 99.1V17.1M497.5 98.0V14.9M500.7 98.0V18.2M504.0 98.5V17.1M507.3 98.0V93.8M507.3 89.3V16.0M510.5 89.3V18.2M513.8 86.0V55.4M517.0 38.9V37.9M520.3 70.0V67.5M520.3 54.2V44.5M523.6 55.3V52.1" stroke="#4972b6" stroke-width="1.65" stroke-linecap="round" fill="none"/><path d="M458.4 81.1h0M458.4 62.0h0M458.4 54.2h0M458.4 46.7h0M458.4 38.4h0M461.6 71.3h0M497.5 106.3h0M500.7 103.0h0M500.7 13.2h0M510.5 98.6h0M510.5 96.0h0M510.5 93.2h0M513.8 96.4h0M513.8 93.8h0M513.8 90.3h0M513.8 53.7h0M513.8 51.5h0M513.8 49.3h0M513.8 47.2h0M513.8 45.0h0M513.8 42.8h0M513.8 40.6h0M513.8 38.4h0M513.8 36.2h0M513.8 34.0h0M513.8 29.6h0M513.8 27.4h0M513.8 25.2h0M517.0 96.4h0M517.0 77.8h0M517.0 75.5h0M517.0 73.2h0M517.0 70.8h0M517.0 68.5h0M517.0 66.1h0M517.0 63.8h0M517.0 59.1h0M517.0 54.5h0M517.0 52.1h0M517.0 49.8h0M517.0 47.4h0M517.0 45.1h0M517.0 42.8h0M517.0 32.9h0M517.0 30.7h0M517.0 28.5h0M517.0 26.3h0M520.3 87.2h0M520.3 76.7h0M520.3 73.4h0M520.3 62.5h0M520.3 60.3h0M520.3 36.2h0M520.3 30.7h0M520.3 25.9h0M523.6 73.9h0M523.6 68.0h0M523.6 60.3h0M523.6 43.9h0M523.6 34.0h0M523.6 30.3h0M526.8 54.8h0M526.8 50.4h0M526.8 45.0h0M526.8 27.4h0M530.1 77.2h0M536.6 60.3h0" stroke="#4972b6" stroke-width="1.7" stroke-linecap="round" fill="none"/><path d="M491.0 38.0h0M491.0 95.8h0M494.2 79.5h0M494.2 25.5h0M494.2 42.1h0M497.5 18.3h0M497.5 67.0h0M497.5 78.9h0M497.5 26.7h0M500.7 90.2h0M500.7 27.1h0M500.7 89.0h0M500.7 25.9h0M500.7 61.9h0M504.0 91.7h0M504.0 37.4h0M504.0 80.9h0M504.0 93.6h0M504.0 60.6h0M504.0 97.2h0M504.0 46.2h0M504.0 78.0h0M507.3 40.7h0M507.3 44.0h0M507.3 82.3h0M507.3 85.7h0M507.3 43.1h0M507.3 49.1h0M507.3 81.4h0M507.3 52.8h0M507.3 24.6h0M510.5 48.6h0M510.5 75.0h0M510.5 32.3h0M510.5 31.9h0M510.5 82.5h0M510.5 46.8h0M510.5 65.1h0M510.5 57.7h0M510.5 46.0h0M510.5 23.1h0M513.8 62.2h0M513.8 74.4h0M513.8 61.2h0M513.8 74.4h0M513.8 70.8h0M513.8 78.1h0M513.8 60.0h0" stroke="#fff" stroke-width="1.1" stroke-linecap="round" fill="none" opacity="0.65"/><path d="M455.10 113.80v4.55M487.70 113.80v4.55M520.30 113.80v4.55M454.00 92.97h-4.55M454.00 72.10h-4.55M454.00 51.22h-4.55M454.00 30.35h-4.55M454.00 9.47h-4.55" stroke="#1c1c1c" stroke-width="1.05" fill="none"/><path d="M45.60 143.80V248.70H133.60" fill="none" stroke="#1c1c1c" stroke-width="1.05" stroke-linecap="square"/><path d="M91.0 156.8h0M116.3 238.7h0M111.4 226.3h0M49.6 196.8h0M123.7 210.6h0M52.5 223.7h0M110.7 160.9h0M117.3 176.6h0M107.4 234.8h0M120.4 194.8h0M126.1 201.0h0M121.0 217.9h0M84.4 176.4h0M113.1 234.0h0M118.6 156.5h0M105.1 235.0h0M112.9 215.4h0M125.5 186.1h0M114.7 241.6h0M120.3 234.6h0M107.9 155.8h0M114.8 210.2h0M119.6 192.1h0M118.8 208.0h0M115.2 186.1h0M112.7 240.1h0M90.9 241.0h0M114.0 153.9h0M100.1 157.3h0M98.2 156.5h0M114.0 218.6h0M115.0 229.5h0M112.9 228.1h0M100.3 237.9h0M71.1 234.1h0M93.8 155.8h0M53.9 230.0h0M87.1 176.9h0M115.5 194.6h0M77.8 235.7h0M127.6 175.2h0M91.5 159.3h0M105.5 158.8h0M110.1 238.2h0M114.3 168.6h0M114.4 228.6h0M125.4 203.3h0M85.9 173.1h0M102.2 240.2h0M56.0 186.9h0M120.8 223.7h0M122.7 200.8h0M116.6 223.1h0M72.0 233.6h0M101.1 157.1h0M67.4 235.5h0M97.1 235.8h0M119.3 196.8h0M119.6 223.8h0M89.7 237.3h0M124.6 217.1h0M111.5 152.6h0M122.4 208.0h0M95.8 239.1h0M52.8 211.8h0M85.0 241.1h0M113.9 230.9h0M114.8 237.1h0M106.7 153.2h0M52.8 212.7h0M120.5 199.1h0M63.0 184.8h0M86.3 166.0h0M103.1 158.4h0M125.6 167.9h0M119.9 216.6h0M97.8 151.2h0M57.5 187.3h0M52.8 191.8h0M118.5 205.6h0M103.3 238.6h0M117.4 213.2h0M57.5 186.6h0M67.5 234.5h0M50.9 205.1h0M116.7 234.9h0M82.0 162.7h0M55.5 190.5h0M83.3 241.9h0M115.0 189.0h0M101.8 236.7h0M121.4 158.0h0M71.5 237.5h0M109.4 152.9h0M105.9 157.0h0M119.7 222.9h0M126.6 176.2h0M82.9 240.5h0M119.9 186.5h0M51.5 205.8h0M117.7 157.2h0M104.1 155.7h0M126.2 171.1h0M56.5 228.5h0M79.6 168.5h0M121.1 189.9h0M117.0 161.5h0M101.7 150.8h0M116.7 204.9h0M70.3 181.4h0M78.3 160.6h0M107.1 238.8h0M111.2 229.6h0M119.9 231.7h0M123.1 185.4h0M81.2 236.3h0M110.1 160.7h0M105.4 243.1h0M88.1 159.9h0M126.4 183.8h0M100.2 155.9h0M107.6 237.7h0M115.7 231.9h0M107.7 153.2h0M122.8 171.5h0M125.7 183.1h0M94.4 157.2h0M73.8 239.1h0M114.0 211.9h0M121.6 157.1h0M121.6 166.7h0M85.6 175.7h0M114.6 230.8h0M106.4 242.6h0M120.0 176.2h0M84.9 177.5h0M123.8 169.9h0M118.7 164.1h0M120.9 210.0h0M117.9 169.5h0M77.1 235.2h0M68.4 238.2h0M125.3 183.5h0M77.6 238.7h0M109.7 155.3h0M117.6 209.7h0M114.0 234.0h0M114.7 219.0h0M123.8 170.4h0M122.8 175.9h0M84.8 157.3h0M122.9 221.1h0M66.0 184.1h0M105.5 153.7h0M71.6 236.7h0M79.7 178.8h0M118.7 207.6h0M115.7 207.2h0M84.4 172.9h0M117.0 208.7h0M83.8 239.7h0M115.4 169.9h0M77.1 164.4h0M117.4 182.1h0M106.4 239.9h0M124.9 166.1h0M123.6 216.5h0M118.2 234.5h0M115.3 214.8h0M83.3 176.9h0M122.5 181.9h0M118.6 231.4h0M124.8 177.0h0M84.0 176.8h0M85.0 174.3h0M120.9 217.9h0M113.3 228.4h0M116.1 241.6h0M104.2 237.8h0M72.6 236.0h0M78.8 162.9h0M112.9 163.7h0M123.1 167.2h0M114.5 183.5h0M85.1 171.3h0M83.5 240.3h0M117.9 190.3h0M111.7 239.3h0M85.2 239.4h0M78.9 159.7h0M101.6 242.9h0M115.9 213.0h0M65.2 237.6h0M114.7 190.9h0M85.4 167.5h0M92.7 159.2h0M82.4 170.1h0M126.6 175.7h0M125.9 178.0h0M86.1 161.9h0M118.1 208.4h0M121.0 165.5h0M50.9 199.8h0M116.7 241.0h0M81.4 161.2h0M117.0 159.9h0M80.3 160.3h0M116.4 161.6h0M123.5 174.3h0M101.7 241.4h0M85.2 172.3h0M115.8 236.5h0M113.8 156.2h0M116.2 238.5h0M95.9 157.7h0M85.3 172.6h0M86.3 161.6h0M96.4 242.1h0M130.4 171.6h0M121.8 216.8h0M52.6 212.0h0M113.4 216.2h0M96.4 239.6h0M99.5 155.7h0M79.1 237.4h0M72.4 237.6h0M122.2 187.9h0M114.4 169.8h0M81.6 156.0h0M115.5 176.9h0M115.5 239.6h0M122.3 178.3h0M119.9 183.3h0M125.8 176.1h0M116.5 224.0h0M81.8 170.0h0M116.8 188.3h0M69.6 183.1h0M93.3 160.8h0M86.4 237.9h0M126.2 190.3h0M115.2 185.0h0M51.2 206.5h0M81.8 161.0h0M118.5 158.0h0M118.8 239.0h0M111.0 162.8h0M64.7 236.8h0M118.5 230.8h0M120.7 171.0h0M119.5 203.0h0M116.9 162.4h0M66.3 182.2h0M80.3 158.6h0M116.3 204.9h0M114.7 182.0h0M78.9 157.6h0M123.1 194.8h0M109.3 153.9h0M72.8 182.7h0M69.8 183.7h0M84.9 167.9h0M117.9 198.1h0M97.5 154.6h0M122.3 175.9h0M102.9 243.2h0M105.8 153.8h0M112.2 237.7h0M87.5 170.8h0M114.7 162.2h0M117.6 238.7h0M119.6 206.8h0M56.3 232.5h0M125.1 181.3h0M126.7 183.1h0M115.1 199.8h0M111.0 157.0h0M82.8 169.8h0M81.6 170.8h0M118.6 163.1h0M80.1 170.4h0M120.8 212.5h0M87.4 239.3h0M51.9 203.0h0M82.8 170.7h0M111.2 232.4h0M126.1 163.1h0M118.6 205.1h0M116.5 194.9h0M110.9 227.3h0M107.0 154.0h0M80.3 178.3h0M53.8 217.3h0M53.8 192.5h0M78.3 157.4h0M100.7 235.5h0M112.4 242.0h0M80.0 165.9h0M87.6 173.4h0M104.3 238.2h0M117.2 197.2h0M80.1 181.2h0M58.1 187.3h0M94.9 239.7h0M116.2 165.5h0M125.6 168.8h0M60.4 232.1h0M116.2 213.4h0M84.1 166.7h0M73.6 237.6h0M107.6 156.6h0M121.0 196.3h0M87.0 172.8h0M115.5 236.3h0M101.7 240.9h0M51.9 209.7h0M115.4 225.6h0M114.3 162.0h0M115.1 218.5h0M114.1 238.5h0M85.2 237.5h0M102.0 235.1h0M87.1 156.8h0M78.8 179.8h0M97.1 159.0h0M51.6 208.7h0M96.9 236.6h0M119.5 208.9h0M103.1 152.7h0M119.4 177.6h0M90.3 158.4h0M80.6 239.8h0M118.9 188.1h0M122.7 161.1h0M127.7 189.2h0M117.4 210.2h0M120.1 211.9h0M68.8 234.3h0M78.1 240.2h0M95.0 156.0h0M95.6 241.8h0M114.8 178.6h0M78.8 235.2h0M82.2 236.7h0M110.2 155.4h0M61.2 237.6h0M99.6 236.5h0M113.6 205.9h0M122.4 177.4h0M53.2 220.4h0M116.5 190.1h0M120.5 200.0h0M105.9 156.9h0M124.2 181.5h0M112.1 163.1h0M124.1 174.0h0M86.2 156.3h0M118.5 158.0h0M81.4 167.4h0M93.1 235.9h0M64.0 233.8h0M98.8 237.9h0M106.7 155.2h0M126.7 166.5h0M117.2 223.2h0M93.2 158.7h0M123.2 191.1h0M110.4 236.4h0M84.1 179.9h0M127.3 165.6h0M81.5 176.6h0M120.6 212.6h0M86.9 162.5h0M122.3 177.2h0M78.0 163.3h0M120.4 169.0h0M50.8 205.9h0M100.9 239.4h0M116.1 237.8h0M113.4 158.7h0M113.2 230.8h0M116.3 238.1h0M116.9 215.9h0M107.2 155.9h0M122.8 210.6h0M121.8 221.0h0M105.9 235.4h0M117.2 169.5h0M66.0 232.6h0M116.5 172.7h0M113.9 209.2h0M111.1 153.2h0M116.3 172.4h0M100.6 151.8h0M120.9 225.0h0M88.3 156.0h0M89.7 159.0h0M128.5 165.8h0M70.2 183.8h0M120.4 207.5h0M54.6 216.6h0M55.2 227.5h0M76.7 237.3h0M70.6 184.0h0M123.0 179.2h0M123.9 194.1h0M90.4 236.4h0M103.2 153.6h0M86.5 158.0h0M92.3 236.6h0M108.5 158.3h0M116.1 190.7h0M52.7 223.2h0M127.7 168.2h0M90.9 156.0h0M86.3 160.1h0M113.7 224.3h0M113.1 217.4h0M51.4 216.3h0M108.7 157.1h0M87.2 167.9h0M72.7 238.5h0M114.6 168.0h0M116.8 191.7h0M52.3 198.6h0M103.2 157.4h0M123.0 193.8h0M102.9 158.3h0M54.1 231.2h0M52.0 211.0h0M100.2 157.4h0M123.3 180.1h0M116.2 157.1h0M88.8 236.2h0M51.7 209.8h0M81.6 162.4h0M115.4 244.2h0M111.0 226.9h0M114.3 240.5h0M117.2 213.6h0M116.3 215.9h0M99.2 236.2h0M116.4 194.3h0M95.6 157.9h0M115.2 208.0h0M68.4 236.3h0M101.2 156.2h0M67.5 237.9h0M119.5 210.6h0M53.1 190.3h0M116.0 164.2h0M94.6 236.6h0M118.2 178.3h0M87.1 167.8h0M86.5 155.0h0M57.4 189.1h0M107.4 158.9h0M111.8 240.6h0M129.1 170.3h0M85.5 170.7h0M86.0 178.8h0M119.6 201.6h0M75.0 180.8h0M123.1 184.6h0M123.1 168.3h0M122.5 212.2h0M120.2 213.6h0M116.7 207.0h0M82.2 174.3h0M56.5 187.6h0M89.5 159.5h0M55.6 230.6h0M85.7 236.7h0M91.5 239.5h0M115.6 181.6h0M82.7 235.7h0M97.8 152.0h0M81.0 236.8h0M95.6 156.8h0M107.5 159.4h0M124.0 205.7h0M118.8 176.4h0M115.2 201.3h0M108.2 154.1h0M118.3 179.8h0M83.8 172.6h0M82.8 236.5h0M117.1 164.6h0M123.2 207.5h0M58.5 233.4h0M51.4 200.8h0M118.9 214.5h0M92.4 157.5h0M90.5 243.0h0M117.5 199.2h0M63.9 184.6h0M108.3 239.5h0M52.0 204.1h0M116.3 241.3h0M78.0 240.2h0M109.2 234.1h0M114.9 240.5h0M102.5 155.1h0M120.2 232.9h0M60.7 233.5h0M124.8 188.8h0M88.2 162.4h0M79.2 180.6h0M121.3 181.8h0M129.4 176.1h0M126.3 163.6h0M98.0 151.4h0M86.1 168.2h0M122.0 218.6h0M86.6 175.9h0M77.0 236.3h0M101.1 150.7h0M94.3 158.5h0M119.6 179.7h0M114.7 188.8h0M119.8 206.4h0M117.5 198.4h0M113.9 227.6h0M105.3 152.2h0M84.6 169.9h0M116.2 171.7h0M64.6 235.6h0M73.7 182.5h0M101.1 239.7h0M117.0 170.4h0M123.6 166.0h0M115.9 197.5h0M63.3 236.7h0M49.8 199.1h0M60.0 183.9h0M120.4 168.3h0M80.7 157.9h0M68.8 233.2h0M123.7 166.7h0M117.0 204.3h0M115.5 237.0h0M86.1 165.9h0M118.6 197.6h0M97.4 237.1h0M88.5 155.6h0M88.6 174.3h0M84.4 160.3h0M119.9 221.1h0M51.9 201.5h0M84.0 238.2h0M65.6 235.5h0M117.3 214.4h0M83.9 166.6h0M120.6 226.9h0M90.4 235.8h0M95.1 157.7h0M122.4 206.5h0M84.1 236.9h0M121.7 158.5h0M55.4 224.9h0M102.0 153.8h0M116.8 173.8h0M106.8 157.5h0M57.9 230.9h0M122.2 216.2h0M108.8 239.4h0M117.5 162.6h0M109.5 230.6h0M126.4 172.3h0M130.5 171.6h0M111.6 164.3h0M96.5 154.7h0M51.4 226.5h0M52.0 214.1h0M122.0 212.1h0M111.3 237.7h0M113.0 161.2h0M122.1 212.8h0M128.8 192.5h0M119.5 188.7h0M63.3 234.6h0M77.0 181.2h0M76.1 162.6h0M83.6 178.4h0M117.8 171.6h0M120.7 170.5h0M49.9 208.4h0M113.0 165.4h0M126.6 168.6h0M90.1 157.4h0M50.6 206.9h0M109.0 157.5h0M99.4 158.7h0M117.4 210.8h0M58.9 183.3h0M123.8 176.0h0M106.8 236.6h0M82.2 239.8h0M116.6 210.3h0M117.6 200.6h0M120.3 181.3h0M72.4 183.4h0M111.5 159.5h0M111.8 157.9h0M85.4 241.4h0M127.8 166.8h0M88.9 162.8h0M80.1 235.7h0M114.5 186.6h0M88.7 162.0h0M116.9 211.4h0M123.5 179.7h0M114.6 195.0h0M85.8 167.9h0M120.8 206.0h0M117.0 230.0h0M51.4 197.3h0M116.5 233.2h0M51.5 203.3h0M60.2 184.9h0M77.5 162.6h0M119.1 207.7h0M87.2 172.9h0M116.6 229.0h0M102.6 238.9h0M75.1 241.1h0M115.3 220.7h0M116.3 198.0h0M120.8 207.6h0M114.0 199.1h0M116.6 161.1h0M81.4 180.6h0M118.4 221.3h0M77.3 181.6h0M113.0 216.0h0M101.3 151.0h0M91.8 159.9h0M60.2 234.2h0M113.8 211.0h0M87.0 170.0h0M125.0 186.1h0M86.0 160.6h0M111.7 229.3h0M120.2 172.8h0M115.5 159.6h0M97.8 240.4h0M67.9 237.9h0M115.0 214.5h0M115.5 232.9h0M88.4 238.9h0M116.6 213.8h0M61.1 235.7h0M113.4 213.9h0M117.5 176.3h0M85.4 161.7h0M50.3 210.9h0M115.2 238.6h0M98.3 153.5h0M107.1 236.9h0M125.8 181.5h0M91.3 158.4h0M53.7 188.3h0M99.3 152.6h0M110.0 156.4h0M77.8 158.8h0M94.6 237.2h0M113.6 163.7h0M107.0 233.9h0M101.5 150.6h0M90.1 236.9h0M116.9 215.6h0M118.4 167.6h0M85.4 169.0h0M70.8 234.2h0M125.7 195.7h0M119.8 186.7h0M122.2 185.9h0M109.0 237.4h0M51.4 219.1h0M114.8 209.4h0M54.6 233.1h0M73.8 238.3h0M68.6 233.1h0M95.7 235.7h0M100.9 158.7h0M113.7 163.4h0M50.6 205.5h0M112.8 215.2h0M97.0 240.4h0M108.8 236.5h0M123.0 202.5h0M113.9 227.0h0M122.0 166.2h0M115.5 158.7h0M125.8 175.7h0M115.0 241.2h0M89.0 237.3h0M51.1 200.4h0M69.0 234.7h0M118.5 174.8h0M57.6 185.7h0M62.3 235.8h0M118.1 172.6h0M92.8 156.4h0M114.4 168.8h0M89.7 238.7h0M66.5 183.2h0M113.5 167.0h0M122.9 210.7h0M103.0 156.4h0M52.0 199.5h0M80.2 162.7h0M116.9 170.5h0M109.5 239.4h0M116.9 187.6h0M122.6 219.0h0M121.8 188.2h0M120.9 185.2h0M68.5 239.6h0M73.8 183.0h0M78.5 159.8h0M108.2 235.1h0M80.0 181.5h0M97.5 237.3h0M123.2 201.0h0M85.3 164.1h0M105.8 155.9h0M58.2 187.7h0M91.3 235.9h0M56.1 189.6h0M112.3 226.6h0M117.8 204.9h0M119.5 157.9h0M53.2 223.8h0M124.1 211.4h0M95.0 159.3h0M82.1 157.5h0M56.7 183.8h0M124.2 199.6h0M115.5 188.0h0M113.8 228.0h0M72.9 240.4h0M56.0 189.3h0M114.6 207.9h0M124.5 206.5h0M110.0 154.3h0M84.1 158.0h0M118.2 238.7h0M121.7 202.6h0M115.0 203.6h0M116.0 209.6h0M127.9 184.8h0M121.7 186.4h0M120.1 185.9h0M105.5 158.8h0M111.6 242.5h0M113.9 187.9h0M102.2 240.4h0M112.8 242.2h0M65.9 238.0h0M115.2 228.6h0M85.1 178.1h0M96.7 241.5h0M60.8 185.1h0M78.1 161.3h0M118.7 209.3h0M119.7 185.3h0M57.1 186.1h0M87.0 172.6h0M123.8 202.6h0M117.1 231.4h0M83.0 157.8h0M84.7 167.4h0M116.2 168.3h0M121.8 168.1h0M127.3 179.1h0M66.4 235.5h0M125.8 174.0h0M123.0 187.5h0M114.1 203.9h0M67.7 182.5h0M103.4 155.7h0M114.7 223.7h0M101.1 236.4h0M84.7 177.4h0M81.5 167.7h0M63.3 231.6h0M58.0 234.6h0M113.0 242.1h0M85.1 160.4h0M106.1 151.0h0M119.8 183.4h0M107.6 242.0h0M105.1 155.5h0M117.7 175.2h0M115.9 213.6h0M117.7 201.1h0M119.7 215.1h0M114.1 244.0h0M101.5 153.2h0M74.2 239.3h0M106.0 157.5h0M120.1 197.1h0M118.7 169.6h0M115.0 174.9h0M118.6 213.1h0M72.5 182.4h0M115.8 241.9h0M97.4 157.5h0M81.9 174.2h0M120.5 203.4h0M104.8 159.4h0M86.1 168.8h0M119.9 195.3h0M116.0 217.0h0M119.7 215.8h0M92.0 238.0h0M86.9 160.2h0M116.8 180.8h0M115.8 185.2h0M56.8 185.2h0M120.1 199.0h0M126.1 197.5h0M115.2 181.8h0M117.7 156.2h0M117.2 156.0h0M119.2 233.4h0M115.5 162.7h0M117.0 241.4h0M122.1 176.2h0M115.6 176.0h0M117.3 166.4h0M115.8 183.0h0M115.8 204.2h0M100.5 153.2h0M80.6 163.1h0M120.1 216.7h0M71.1 182.7h0M94.7 156.5h0M51.1 209.1h0M55.5 220.5h0M68.9 240.5h0M120.7 204.8h0M93.0 159.4h0M122.0 167.4h0M69.6 235.4h0M85.7 171.0h0M84.0 164.8h0M58.0 188.3h0M53.1 215.9h0M121.1 193.2h0M101.2 238.9h0M116.2 186.2h0M121.5 203.6h0M52.2 204.5h0M119.7 230.0h0M98.2 156.1h0M108.2 241.6h0M115.1 165.5h0M72.6 235.3h0M82.2 240.4h0M79.6 169.8h0M90.1 159.0h0M88.0 163.1h0M118.9 202.3h0M125.2 174.7h0M109.4 232.3h0M78.0 163.0h0M83.7 241.4h0M89.5 236.2h0M80.7 160.3h0M120.5 219.1h0M118.8 206.0h0M103.5 234.5h0M118.6 234.2h0M113.4 234.2h0M81.4 159.9h0M107.5 152.4h0M119.0 233.6h0M120.4 195.6h0M82.1 165.5h0M98.4 152.7h0M111.6 226.2h0M111.4 234.2h0M51.6 200.0h0M120.8 205.8h0M113.5 229.5h0M85.5 169.2h0M85.0 179.1h0M50.5 212.4h0M81.6 179.8h0M50.7 204.9h0M113.9 198.4h0M113.4 199.0h0M80.0 179.9h0M80.8 170.8h0M113.5 197.6h0M72.3 239.0h0M110.8 156.3h0M99.3 151.9h0M102.4 156.0h0M54.6 188.9h0M121.5 175.9h0M125.9 191.0h0M121.6 166.7h0M62.1 185.3h0M114.2 193.0h0M118.9 227.4h0M109.4 157.1h0M121.0 188.1h0M124.4 176.0h0M116.9 207.5h0M119.1 231.1h0M119.2 186.1h0M100.6 158.7h0M121.2 233.4h0M119.3 232.4h0M120.8 190.7h0M89.5 162.3h0M83.9 237.8h0M111.3 156.0h0M75.3 235.8h0M114.6 195.6h0M105.0 155.2h0M86.8 175.7h0M119.2 205.4h0M124.4 201.4h0M116.5 209.1h0M103.5 234.2h0M109.9 156.5h0M83.9 159.3h0M88.7 236.8h0M54.5 191.3h0M77.7 162.8h0M119.4 217.1h0M115.2 189.0h0M96.3 153.4h0M115.6 217.6h0M113.9 215.8h0M84.0 169.8h0M97.1 155.8h0M75.3 182.6h0M81.4 166.4h0M125.4 183.6h0M94.4 158.6h0M85.2 178.8h0M125.6 203.7h0M79.2 234.8h0M117.5 204.6h0M118.9 224.1h0M116.3 190.5h0M120.9 164.6h0M113.2 163.2h0M124.1 221.9h0M113.3 165.6h0M90.6 161.5h0M57.4 229.0h0M56.7 186.6h0M121.8 221.0h0M117.6 225.7h0M117.8 236.2h0M114.1 232.7h0M118.4 219.9h0M57.7 233.3h0M116.3 233.7h0M56.0 187.5h0M122.7 174.5h0M115.2 157.0h0M101.1 155.8h0M78.6 239.9h0M113.7 237.1h0M75.9 161.2h0M82.6 178.6h0M99.9 237.9h0M116.9 167.6h0M55.4 227.2h0M54.2 231.3h0M106.3 241.9h0M122.0 162.0h0M117.5 190.1h0M86.5 161.1h0M82.6 179.7h0M89.2 161.3h0M109.9 157.3h0M119.9 164.9h0M115.4 219.8h0M61.2 233.9h0M114.4 215.6h0M115.5 175.2h0M78.8 179.0h0M121.2 199.8h0M117.0 211.6h0M116.9 159.0h0M116.4 168.1h0M79.3 158.4h0M74.7 237.1h0M89.3 158.8h0M119.9 160.6h0M117.5 216.2h0M122.8 168.7h0M85.6 238.4h0M100.6 156.4h0M114.1 188.3h0M119.6 162.5h0M96.1 239.0h0M115.0 186.1h0M118.4 160.4h0M115.7 222.4h0M120.8 209.4h0M121.5 196.4h0M117.7 188.3h0M81.0 239.8h0M70.2 239.0h0M125.6 194.0h0M68.8 237.1h0M117.0 196.1h0M57.8 227.2h0M115.4 192.4h0M97.3 241.2h0M88.4 159.2h0M82.3 159.4h0M95.4 158.1h0M80.5 168.8h0M100.6 241.1h0M88.6 236.7h0M69.3 183.6h0M117.7 232.0h0M108.7 160.8h0M119.0 180.8h0M118.7 238.7h0M122.2 165.9h0M64.5 231.9h0M59.0 227.1h0M111.4 162.4h0M60.0 185.6h0M83.1 235.9h0M98.4 155.7h0M128.0 168.0h0M72.9 239.3h0M55.2 187.7h0M112.1 225.3h0M70.7 236.8h0M58.8 230.1h0M114.0 197.3h0M114.0 223.4h0M89.3 156.9h0M121.6 226.6h0M76.6 158.8h0M125.2 170.4h0M52.5 225.1h0M122.6 163.1h0M117.3 232.8h0M101.7 151.0h0M94.0 241.4h0M116.3 199.5h0M115.6 240.6h0M111.6 226.5h0M112.5 234.8h0M121.1 225.1h0M53.7 224.3h0M117.3 222.0h0M113.7 158.3h0M83.4 166.9h0M116.8 216.5h0M81.9 161.4h0M118.8 208.5h0M90.0 239.4h0M54.7 222.3h0M70.6 240.3h0M82.9 159.9h0M116.4 193.1h0M66.7 235.3h0M121.4 214.2h0M81.9 179.2h0M114.2 189.1h0M78.6 164.6h0M116.9 212.7h0M109.5 239.3h0M115.0 184.4h0M54.7 216.8h0M107.1 238.8h0M121.0 199.2h0M107.3 156.4h0M112.5 220.7h0M126.2 168.5h0M93.3 240.3h0M101.8 153.4h0M118.9 238.0h0M127.5 179.0h0M83.3 162.0h0M123.7 190.6h0M75.9 240.4h0M90.7 239.2h0M94.8 157.7h0M96.9 153.3h0M113.9 239.1h0M102.1 153.3h0M85.9 171.9h0M100.0 153.3h0M122.9 160.3h0M121.4 178.1h0M121.4 222.2h0M82.5 167.3h0M72.1 236.9h0M49.7 204.9h0M84.8 168.7h0M60.0 230.5h0M68.6 183.2h0M89.3 162.5h0M96.7 152.1h0M82.5 161.8h0M88.9 236.3h0M103.5 158.0h0M79.4 180.9h0M114.8 222.4h0M122.0 210.3h0M127.7 172.7h0M121.0 212.4h0M116.7 168.3h0M101.7 153.8h0M119.4 236.2h0M117.0 194.9h0M118.0 156.7h0M112.0 155.6h0M72.3 238.6h0M95.2 238.0h0M128.5 167.2h0M125.8 193.7h0M78.4 164.9h0M86.2 168.5h0M119.4 232.0h0M117.1 168.0h0M126.6 163.8h0M111.5 236.2h0M54.1 214.8h0M57.9 233.9h0M96.3 154.8h0M50.6 201.5h0M118.5 220.0h0M115.9 228.2h0M115.9 233.4h0M115.1 164.8h0M116.7 202.2h0M66.6 233.4h0M88.0 155.8h0M78.1 162.2h0M112.6 159.3h0M81.0 164.0h0M96.3 158.2h0M82.2 158.3h0M120.5 198.7h0M121.9 195.0h0M110.2 155.1h0M104.3 236.6h0M113.9 157.4h0M83.6 178.6h0M113.4 200.9h0M84.7 159.5h0M119.6 214.9h0M117.6 222.9h0M126.2 170.2h0M105.6 243.0h0M107.6 156.3h0M126.1 206.7h0M51.7 210.8h0M114.2 157.3h0M98.8 239.2h0M72.0 237.4h0M119.8 202.7h0M89.9 161.6h0M117.4 208.5h0M85.3 167.9h0M71.0 234.0h0M116.6 168.0h0M78.2 168.1h0M116.8 178.2h0M120.9 222.3h0M87.4 163.4h0M72.3 234.5h0M113.9 173.7h0M51.5 198.1h0M71.2 238.5h0M117.2 225.5h0M61.3 236.6h0M119.1 222.1h0M112.8 219.4h0M58.2 227.5h0M72.4 181.4h0M65.5 235.6h0M113.0 217.1h0M113.3 229.7h0M115.5 185.8h0M117.5 226.8h0M124.9 178.2h0M75.1 235.7h0M116.8 212.9h0M81.8 176.8h0M54.9 190.2h0M118.0 186.0h0M112.0 236.5h0M119.3 177.8h0M64.4 231.5h0M115.2 192.1h0M89.1 162.1h0M102.0 238.5h0M51.1 202.5h0M123.1 184.8h0M119.7 217.9h0M90.5 159.7h0M122.2 191.2h0M120.7 213.0h0M62.5 184.4h0M57.2 226.1h0M94.4 235.9h0M113.4 202.4h0M85.8 175.5h0M54.2 191.1h0M76.3 180.8h0M114.5 214.4h0M109.6 153.8h0M122.9 179.1h0M113.8 157.7h0M53.2 192.1h0M48.9 209.1h0M118.7 187.7h0M119.7 192.2h0M112.8 236.7h0M89.3 160.2h0M50.8 211.8h0M120.8 169.5h0M59.0 231.5h0M121.0 163.0h0M72.6 234.4h0M97.9 239.4h0M114.6 180.5h0M75.5 182.5h0M68.8 183.5h0M86.5 156.6h0M119.3 163.8h0M87.7 159.3h0M123.0 168.7h0M117.8 165.8h0M57.6 231.3h0M118.2 162.2h0M115.7 220.4h0M51.3 211.3h0M61.5 231.3h0M107.6 233.3h0M99.1 149.4h0M55.7 222.2h0M118.2 231.7h0M115.1 225.4h0M114.2 184.5h0M109.0 157.4h0M117.5 185.1h0M119.7 209.2h0M123.0 204.0h0M116.4 208.2h0M71.8 182.5h0M82.9 177.9h0M92.7 159.8h0M85.5 174.2h0M118.5 158.3h0M111.4 239.9h0M125.2 217.1h0M123.8 207.1h0M125.2 204.9h0M106.4 153.7h0M116.8 222.8h0M117.6 215.9h0M65.7 237.4h0M84.0 240.2h0M75.8 162.6h0M80.8 178.6h0M64.9 238.6h0M111.3 151.1h0M55.2 224.9h0M126.5 173.1h0M85.1 179.0h0M108.9 156.3h0M80.0 161.5h0M118.9 206.7h0M113.2 228.5h0M118.0 194.3h0M88.3 157.3h0M114.4 202.9h0M123.3 163.5h0M113.4 216.8h0M81.1 160.4h0M115.4 195.6h0M125.1 196.6h0M124.2 195.9h0M125.8 186.1h0M123.2 200.9h0M116.8 181.6h0M91.9 159.1h0M117.2 168.1h0M81.9 169.2h0M66.7 234.7h0M81.2 168.8h0M120.2 161.4h0M121.3 165.3h0M86.7 172.3h0M126.4 170.1h0M114.6 180.6h0M76.9 160.6h0M116.9 238.5h0M122.8 202.3h0M116.2 174.0h0M120.6 165.9h0M86.5 164.5h0M86.3 241.4h0M117.4 219.9h0M116.4 211.6h0M86.5 163.5h0M113.6 223.7h0M115.6 176.1h0M70.9 237.8h0M71.6 237.8h0M114.2 198.7h0M65.3 237.2h0M61.0 231.7h0M49.7 207.7h0M120.6 187.1h0M75.5 236.5h0M119.8 217.6h0M100.4 155.5h0M80.7 169.3h0M116.4 185.6h0M94.8 236.7h0M86.0 165.4h0M115.1 216.6h0M52.3 211.4h0M116.1 164.6h0M119.7 225.6h0M115.9 159.4h0M105.5 159.5h0M118.5 200.9h0M62.4 230.6h0M121.3 198.4h0M113.3 193.0h0M117.5 233.9h0M105.0 159.2h0M121.9 226.0h0M113.1 240.2h0M101.5 236.5h0M109.4 153.8h0M113.0 215.5h0M62.0 233.1h0M72.9 237.9h0M102.5 156.6h0M113.7 214.7h0M100.4 156.0h0M121.5 169.9h0M80.0 177.2h0M119.0 212.2h0M99.3 152.7h0M86.7 162.1h0M122.6 177.8h0M119.0 197.2h0M117.2 201.7h0M121.9 211.8h0M116.3 188.8h0M119.7 224.5h0M126.2 196.4h0M53.7 229.4h0M122.2 197.6h0M93.7 161.1h0M119.5 176.7h0M83.3 236.6h0M113.4 206.6h0M118.6 223.7h0M113.8 203.3h0M56.3 223.6h0M117.1 158.8h0M112.1 160.3h0M96.9 235.4h0M57.4 186.7h0M111.1 237.9h0M97.6 236.5h0M87.8 236.8h0M103.2 240.4h0M124.7 167.6h0M56.2 186.6h0M114.2 192.7h0M98.6 238.7h0M116.1 174.1h0M119.8 185.4h0M66.2 237.0h0M109.7 160.3h0M78.6 235.1h0M81.2 160.8h0M90.5 161.9h0M112.9 161.8h0M124.9 210.5h0M117.4 215.3h0M113.4 213.4h0M116.8 219.4h0M119.4 209.9h0M116.3 195.0h0M90.1 159.9h0M119.0 226.6h0M94.3 238.7h0M84.5 173.3h0M128.2 173.1h0M81.4 160.0h0M126.9 177.1h0M96.5 236.8h0M82.5 163.5h0M68.1 236.8h0M121.1 208.8h0M117.8 175.3h0M115.2 213.8h0M121.0 167.7h0M119.9 236.2h0M52.7 220.1h0M51.3 216.9h0M100.7 151.9h0M125.5 183.5h0M119.5 182.5h0M58.3 188.0h0M59.6 232.7h0M81.1 157.1h0M61.4 184.5h0M117.4 221.0h0M115.4 163.3h0M120.7 209.9h0M119.0 178.2h0M98.8 153.1h0M121.7 214.8h0M118.3 197.1h0M117.4 157.9h0M114.5 193.8h0M89.9 238.5h0M76.8 180.7h0M57.3 228.5h0M83.2 168.1h0M82.3 236.8h0M117.7 162.3h0M79.6 179.1h0M98.3 156.0h0M117.5 183.9h0M118.7 186.3h0M115.7 174.9h0M112.6 232.0h0M116.1 180.6h0M85.7 179.2h0M104.1 238.6h0M122.2 218.2h0M96.0 156.0h0M116.9 195.9h0M118.9 168.4h0M85.6 172.2h0M102.9 154.3h0M122.3 216.2h0M96.4 154.5h0M84.6 170.0h0M81.8 161.5h0M102.8 155.9h0M62.8 184.2h0M115.8 207.9h0M78.4 169.7h0M90.5 240.4h0M51.6 223.7h0M64.6 232.0h0M83.4 160.3h0M53.1 219.2h0M58.8 227.4h0M57.0 187.5h0M105.7 153.4h0M94.9 236.8h0M55.0 232.4h0M115.4 185.5h0M108.1 241.1h0M119.9 195.6h0M99.3 237.9h0M84.1 157.1h0M116.6 163.8h0M84.6 174.0h0M94.6 155.7h0M111.5 158.3h0M100.3 159.1h0M113.0 167.5h0M94.9 242.8h0M98.4 152.7h0M117.9 219.6h0M92.8 239.1h0M92.5 239.3h0M127.4 177.0h0M84.9 175.9h0M116.4 159.4h0M50.6 209.3h0M123.4 219.2h0M73.9 236.0h0M119.1 208.9h0M116.3 173.5h0M82.3 165.8h0M114.2 242.2h0M111.9 228.6h0M83.1 172.6h0M105.5 155.1h0M62.8 230.4h0M111.2 226.4h0M97.1 157.5h0M112.3 238.2h0M118.8 195.8h0M113.4 226.5h0M119.0 169.8h0M92.4 158.6h0M126.4 190.2h0M88.7 163.0h0M126.4 184.1h0M65.1 181.8h0M54.1 218.7h0M114.5 210.6h0M97.3 158.9h0M51.7 205.5h0M108.8 155.3h0M122.8 207.9h0M115.8 164.2h0M99.8 235.4h0M120.0 231.9h0M51.2 201.8h0M49.2 210.1h0M104.6 237.2h0M116.1 239.9h0M85.4 161.1h0M79.6 156.9h0M79.4 170.6h0M125.6 194.1h0M116.2 235.0h0M125.1 187.4h0M86.2 159.2h0M106.4 241.2h0M50.6 203.7h0M68.4 234.9h0M112.6 230.3h0M119.1 198.4h0M121.8 204.0h0M77.1 166.2h0M86.2 163.9h0M52.6 191.6h0M124.1 182.1h0M121.3 159.4h0M114.6 222.6h0M121.7 170.8h0M55.4 227.9h0M75.4 240.3h0M55.1 219.1h0M121.5 223.5h0M114.7 183.7h0M105.3 155.5h0M112.7 223.8h0M90.1 237.7h0M123.0 161.6h0M63.8 184.5h0M120.3 219.5h0M51.8 208.9h0M82.5 179.5h0M54.5 190.3h0M85.2 171.6h0M52.5 225.1h0M123.9 214.7h0M97.9 240.3h0M115.7 196.4h0M69.6 234.3h0M124.1 200.3h0M114.3 177.2h0M116.7 239.5h0M76.3 179.9h0M114.4 172.8h0M100.9 158.5h0M105.6 159.3h0M126.4 186.5h0M57.6 186.7h0M77.9 163.7h0M123.8 163.5h0M104.6 156.5h0M55.7 226.1h0M122.3 184.8h0M99.5 237.8h0M118.3 231.9h0M70.3 235.3h0M114.9 233.2h0M79.4 237.7h0M118.2 235.0h0M123.2 220.6h0M116.5 189.1h0M78.2 161.4h0M120.7 164.5h0M121.3 202.8h0M104.8 159.4h0M112.7 230.3h0M120.1 161.6h0M115.9 234.5h0M108.0 157.6h0M113.4 227.0h0M117.9 162.7h0M120.0 184.0h0M119.4 202.1h0M123.8 221.3h0M120.0 215.5h0M124.7 192.9h0M118.6 199.6h0M93.6 157.0h0M119.8 228.1h0M77.8 167.4h0M102.8 239.7h0M89.8 157.0h0M99.3 155.1h0M116.9 187.9h0M121.3 181.7h0M128.5 166.8h0M120.3 223.6h0M113.2 216.0h0M77.5 158.5h0M116.4 229.1h0M119.0 185.8h0M59.6 233.9h0M105.5 240.3h0M122.2 194.8h0M114.9 219.0h0M52.7 199.2h0M80.9 170.4h0M121.9 165.0h0M53.8 224.5h0M110.4 231.0h0M86.3 236.5h0M75.9 180.7h0M52.4 217.8h0M118.4 241.6h0M120.8 187.2h0M69.2 183.6h0M127.5 195.4h0M123.3 208.0h0M117.6 203.9h0M125.3 163.2h0M115.1 230.0h0M74.4 181.4h0M97.6 236.4h0M88.3 174.0h0M122.6 169.3h0M106.3 237.1h0M84.2 237.1h0M117.5 236.4h0M116.4 220.7h0M58.1 184.3h0M122.2 217.4h0M50.9 203.9h0M123.9 178.9h0M72.9 182.9h0M102.2 151.2h0M80.8 162.6h0M98.5 234.8h0M59.5 183.8h0M114.8 155.1h0M73.5 237.6h0M88.8 237.2h0M84.8 169.8h0M119.9 198.6h0M75.7 240.8h0M115.1 201.8h0M117.4 199.0h0M54.8 218.2h0M108.0 156.1h0M115.1 163.5h0M87.3 159.7h0M80.3 166.3h0M84.8 157.7h0M100.1 235.4h0M57.3 228.2h0M118.6 185.7h0M114.3 208.7h0M72.0 233.9h0M119.1 237.7h0M95.8 156.4h0M63.1 183.4h0M52.3 217.8h0M63.3 238.0h0M51.4 204.2h0M83.3 173.9h0M79.3 166.1h0M79.2 165.4h0M109.4 158.7h0M80.9 180.3h0M119.7 203.2h0M52.1 194.5h0M120.0 220.7h0M125.2 216.2h0M76.8 236.3h0M105.1 155.8h0M114.9 196.2h0M95.6 159.1h0M52.0 200.3h0M124.1 172.9h0M77.3 235.9h0M127.9 186.0h0M113.9 226.2h0M49.7 202.4h0M124.2 211.5h0M84.8 171.0h0M110.8 230.4h0M123.3 223.9h0M87.2 158.2h0M111.5 160.3h0M93.6 159.1h0M81.1 240.6h0M123.8 227.4h0M101.6 241.2h0M113.9 214.1h0M121.1 236.8h0M108.0 235.2h0M101.4 236.0h0M120.2 183.7h0M125.2 181.9h0M100.3 153.2h0M55.6 230.1h0M73.0 238.7h0M79.7 163.3h0M110.4 159.0h0M51.9 203.8h0M119.7 177.0h0M92.4 242.5h0M122.0 165.7h0M125.0 167.7h0M124.6 195.3h0M123.6 213.5h0M115.0 211.6h0M121.0 192.9h0M84.0 157.3h0M101.5 239.8h0M53.8 227.0h0M83.4 173.9h0M102.8 237.0h0M79.9 157.8h0M111.4 151.6h0M115.2 162.4h0M91.7 155.8h0M110.9 156.0h0M71.4 236.6h0M115.7 194.5h0M56.0 221.3h0M121.5 204.2h0M127.2 175.7h0M116.4 235.0h0M85.9 156.3h0M87.7 173.5h0M123.5 210.4h0M110.9 238.4h0M116.8 163.2h0M98.7 235.2h0M116.8 210.2h0M83.3 177.1h0M100.3 238.3h0M109.6 239.6h0M57.0 231.8h0M83.4 173.2h0M123.5 207.3h0M87.5 174.7h0M69.3 235.0h0M113.8 193.5h0M111.3 161.1h0M80.0 178.5h0M51.5 209.2h0M83.1 168.2h0M123.0 199.8h0M82.0 170.4h0M98.2 236.1h0M123.9 195.0h0M52.6 221.1h0M52.7 195.8h0M116.0 213.6h0M129.2 169.2h0M114.8 173.0h0M97.3 239.1h0M54.7 217.6h0M121.7 189.5h0M126.5 200.7h0M118.9 189.6h0M118.1 161.6h0M111.2 153.3h0M111.5 237.4h0M118.4 228.5h0M120.2 179.5h0M85.3 175.0h0M83.4 164.3h0M57.0 230.0h0M117.9 180.6h0M57.6 228.7h0M114.4 204.4h0M113.6 168.6h0M126.5 193.1h0M123.8 162.4h0M93.4 160.8h0M115.2 213.1h0M113.4 220.3h0M56.6 231.7h0M104.0 237.2h0M117.6 159.1h0M128.2 166.3h0M117.0 171.3h0M115.2 180.6h0M77.1 164.3h0M67.1 238.2h0M57.1 231.7h0M114.5 216.7h0M76.8 161.7h0M122.1 170.8h0M90.9 155.7h0M109.8 155.4h0M62.1 183.6h0M127.8 171.6h0M95.6 156.9h0M114.9 202.8h0M96.8 160.1h0M97.7 159.1h0M108.4 233.7h0M53.2 193.6h0M67.8 236.2h0M120.2 221.7h0M120.3 200.0h0M87.2 165.8h0M121.4 173.5h0M113.0 231.4h0M113.2 230.7h0M120.0 222.9h0M117.9 198.2h0M85.6 166.5h0M113.3 228.3h0M119.2 161.1h0M118.8 176.0h0M105.7 241.5h0M86.2 174.1h0M88.0 164.3h0M119.7 197.1h0M112.7 228.8h0M123.1 173.3h0M123.5 167.5h0M120.8 203.3h0M94.8 156.9h0M51.7 205.3h0M94.4 238.8h0M120.2 165.4h0M119.4 217.5h0M67.4 235.6h0M82.5 179.8h0M112.7 162.8h0M76.5 156.5h0M122.6 216.0h0M124.8 166.8h0M80.1 241.3h0M120.3 218.0h0M55.5 229.1h0M124.7 176.2h0M71.9 238.9h0M124.5 201.7h0M123.8 183.9h0M100.8 235.1h0M99.0 156.3h0M102.7 157.3h0M108.4 156.1h0M114.7 162.6h0M108.6 157.6h0M123.7 191.9h0M96.4 156.5h0M123.5 180.3h0M115.3 199.9h0M110.8 163.0h0M101.3 236.0h0M111.8 228.1h0M75.4 160.4h0M112.8 219.2h0M52.1 199.0h0M116.0 221.3h0M120.2 187.7h0M113.1 238.8h0M112.1 165.3h0M123.9 186.8h0M124.3 161.2h0M97.5 241.1h0M124.2 171.6h0M121.6 178.2h0M111.0 160.1h0M94.4 236.2h0M53.0 198.2h0M124.3 176.8h0M57.2 225.8h0M76.3 163.3h0M105.9 237.5h0M54.3 220.1h0M52.0 218.3h0M56.1 229.1h0M119.5 183.7h0M103.4 236.1h0M77.5 162.6h0M80.1 158.7h0M76.4 161.8h0M123.2 210.2h0M74.9 236.4h0M122.8 182.7h0M53.3 224.4h0M119.6 190.5h0M127.3 168.5h0M84.8 165.5h0M80.3 165.9h0M82.4 169.3h0M71.9 237.9h0M119.8 180.9h0M85.6 173.0h0M61.9 234.6h0M71.4 182.5h0M112.8 215.1h0M118.0 183.3h0M68.6 234.5h0M92.8 239.6h0M125.1 189.9h0M100.9 154.4h0M51.6 212.8h0M117.6 230.1h0M53.4 212.9h0M98.2 153.4h0M116.2 176.9h0M82.8 171.3h0M112.3 223.3h0M102.7 238.4h0M93.6 241.8h0M115.5 178.6h0" stroke="#4972b6" stroke-width="1.7" stroke-linecap="round" fill="none"/><path d="M54.2 192.9L60.9 185.6L74.5 183.6L85.0 180.5L89.2 175.3L87.1 169.1L88.1 164.0L94.4 160.9L102.8 158.8L110.1 161.9L112.8 168.1L114.3 178.4L113.2 192.9L113.2 209.4L112.2 223.8L108.0 233.1L92.3 235.8L77.7 234.6L65.1 232.1L57.8 225.9L53.8 213.5L52.1 203.2Z" fill="#4972b6" stroke="#4972b6" stroke-width="1" stroke-linejoin="round"/><path d="M78.3 232.6h0M81.9 231.2h0M112.7 192.6h0M111.1 191.2h0M70.3 187.1h0M67.8 229.1h0M77.8 234.0h0M97.6 232.1h0M109.3 218.4h0M112.2 222.5h0M91.9 206.8h0M59.3 200.1h0M77.0 231.3h0M109.5 226.5h0M104.4 229.6h0M110.6 201.9h0M86.7 211.5h0M71.5 207.0h0M72.0 227.3h0M112.1 208.1h0M62.8 224.4h0M93.7 173.0h0M54.5 200.6h0M109.6 161.6h0M65.1 223.7h0M110.9 179.9h0M107.3 223.8h0M113.9 179.4h0M109.6 221.4h0M112.9 210.2h0M61.9 213.8h0M96.3 186.0h0" stroke="#fff" stroke-width="0.9" stroke-linecap="round" fill="none" opacity="0.75"/><path d="M80.50 248.70v4.55M115.40 248.70v4.55M45.60 224.35h-4.55M45.60 194.45h-4.55M45.60 164.55h-4.55" stroke="#1c1c1c" stroke-width="1.05" fill="none"/><text transform="translate(38.35 227.45) scale(1 1.08)" text-anchor="end" font-size="8.8">20</text><text transform="translate(38.35 197.55) scale(1 1.08)" text-anchor="end" font-size="8.8">30</text><text transform="translate(38.35 167.65) scale(1 1.08)" text-anchor="end" font-size="8.8">40</text><text transform="translate(23.9 196.25) rotate(-90) scale(1 1.08)" text-anchor="middle" font-size="9.25">air_humidity</text><path d="M181.80 143.80V248.70H269.80" fill="none" stroke="#1c1c1c" stroke-width="1.05" stroke-linecap="square"/><rect x="186.50" y="239.80" width="7.85" height="9.45" fill="#4c72b0" stroke="#fff" stroke-width=".55"/><rect x="194.35" y="196.40" width="7.85" height="52.85" fill="#4c72b0" stroke="#fff" stroke-width=".55"/><rect x="202.20" y="181.40" width="7.85" height="67.85" fill="#4c72b0" stroke="#fff" stroke-width=".55"/><rect x="210.05" y="149.10" width="7.85" height="100.15" fill="#4c72b0" stroke="#fff" stroke-width=".55"/><rect x="217.90" y="168.90" width="7.85" height="80.35" fill="#4c72b0" stroke="#fff" stroke-width=".55"/><rect x="225.75" y="187.10" width="7.85" height="62.15" fill="#4c72b0" stroke="#fff" stroke-width=".55"/><rect x="233.60" y="218.00" width="7.85" height="31.25" fill="#4c72b0" stroke="#fff" stroke-width=".55"/><rect x="241.45" y="230.00" width="7.85" height="19.25" fill="#4c72b0" stroke="#fff" stroke-width=".55"/><rect x="249.30" y="234.80" width="7.85" height="14.45" fill="#4c72b0" stroke="#fff" stroke-width=".55"/><rect x="257.15" y="244.10" width="7.85" height="5.15" fill="#4c72b0" stroke="#fff" stroke-width=".55"/><path d="M202.30 248.70v4.55M252.80 248.70v4.55M181.80 224.35h-4.55M181.80 194.45h-4.55M181.80 164.55h-4.55" stroke="#1c1c1c" stroke-width="1.05" fill="none"/><path d="M317.80 143.80V248.70H405.80" fill="none" stroke="#1c1c1c" stroke-width="1.05" stroke-linecap="square"/><path d="M401.1 228.4V225.8M398.9 232.4V223.4M396.8 235.5V206.4M396.8 197.6V189.3M394.7 235.5V221.8M394.7 217.5V198.1M394.7 190.9V185.0M392.6 235.5V198.8M392.6 195.2V182.2M390.4 234.1V188.6M388.3 230.0V227.7M388.3 222.2V200.4M386.2 230.7V227.7M386.2 221.7V200.4M384.1 229.3V200.4M381.9 222.9V200.4M379.8 222.2V198.8M377.7 222.2V204.0M377.7 199.2V192.1M375.6 229.3V182.7M375.6 177.9V167.3M373.4 231.2V230.0M373.4 226.5V168.5M371.3 233.1V230.0M371.3 222.2V175.6M369.2 235.5V181.5M367.1 235.9V205.9M367.1 196.9V190.3M364.9 236.4V207.5M362.8 231.2V228.9M362.8 224.6V211.1M362.8 198.5V193.3M360.7 234.1V231.9M360.7 220.6V205.2M360.7 199.2V196.4M360.7 173.2V167.3M358.6 235.5V233.6M358.6 217.0V198.1M358.6 179.1V160.2M356.4 238.3V237.1M356.4 218.2V214.6M356.4 208.0V185.0M356.4 180.3V177.9M356.4 169.6V159.0M354.3 241.9V240.0M354.3 221.7V213.5M354.3 209.4V157.8M352.2 242.6V240.7M352.2 221.7V157.8M350.1 241.9V240.0M350.1 219.8V215.8M350.1 208.7V155.4M347.9 241.2V239.5M347.9 219.4V215.8M347.9 205.2V150.7M345.8 240.7V239.5M345.8 212.3V187.4M345.8 180.3V175.6M345.8 161.3V154.3M343.7 238.8V237.6M343.7 234.1V231.2M343.7 212.7V198.8M343.7 186.2V181.5M341.6 238.8V234.8M341.6 217.0V180.8M339.4 220.6V180.8M337.3 219.8V215.8M337.3 206.3V185.0M335.2 205.2V181.5M333.1 201.6V187.4M333.1 183.8V181.5M330.9 201.6V187.4M330.9 183.4V181.5M328.8 201.6V188.6M326.7 204.0V189.8M326.7 186.2V180.3M326.7 176.7V174.4M324.6 204.0V188.6M324.6 185.0V179.8M322.4 202.8V189.3" stroke="#4972b6" stroke-width="1.75" stroke-linecap="round" fill="none"/><path d="M362.8 203.9h0M345.8 229.4h0M345.8 226.6h0M345.8 223.8h0M345.8 221.2h0" stroke="#4972b6" stroke-width="1.7" stroke-linecap="round" fill="none"/><path d="M396.8 210.8h0M392.6 226.0h0M390.4 192.7h0M390.4 219.2h0M386.2 207.1h0M384.1 204.4h0M381.9 221.7h0M379.8 211.1h0M377.7 212.1h0M375.6 219.6h0M375.6 191.2h0M373.4 184.2h0M373.4 225.6h0M371.3 214.6h0M369.2 207.4h0M369.2 213.6h0M367.1 214.9h0M360.7 206.9h0M360.7 171.8h0M358.6 234.7h0M358.6 207.6h0M358.6 162.5h0M356.4 197.1h0M354.3 220.5h0M354.3 179.9h0M352.2 171.0h0M352.2 184.4h0M350.1 189.6h0M347.9 198.6h0M347.9 175.0h0M345.8 205.0h0M343.7 203.1h0M343.7 183.7h0M341.6 191.4h0M339.4 200.7h0M339.4 185.6h0M337.3 192.1h0M326.7 199.0h0M324.6 193.7h0" stroke="#fff" stroke-width="1.1" stroke-linecap="round" fill="none" opacity="0.65"/><path d="M320.30 248.70v4.55M362.80 248.70v4.55M405.30 248.70v4.55M317.80 224.35h-4.55M317.80 194.45h-4.55M317.80 164.55h-4.55" stroke="#1c1c1c" stroke-width="1.05" fill="none"/><path d="M454.00 143.80V248.70H542.00" fill="none" stroke="#1c1c1c" stroke-width="1.05" stroke-linecap="square"/><path d="M474.7 242.8V150.7M477.9 242.8V150.1M481.2 242.8V151.8M484.4 241.7V155.0M487.7 241.7V154.4M491.0 241.7V157.2M494.2 235.6V158.3M497.5 241.2V168.1M500.7 241.2V158.3M504.0 234.7V158.3M507.3 234.7V167.0M510.5 234.1V188.7M513.8 230.8V199.5M520.3 220.0V210.3" stroke="#4972b6" stroke-width="1.65" stroke-linecap="round" fill="none"/><path d="M458.4 232.7h0M458.4 226.9h0M458.4 213.7h0M458.4 203.5h0M461.6 226.7h0M491.0 153.4h0M494.2 241.8h0M494.2 239.0h0M494.2 154.4h0M494.2 151.2h0M497.5 163.9h0M497.5 161.8h0M497.5 159.8h0M497.5 153.4h0M500.7 153.8h0M504.0 238.4h0M504.0 151.6h0M507.3 239.7h0M507.3 164.6h0M507.3 162.0h0M507.3 159.4h0M507.3 155.5h0M510.5 187.0h0M510.5 184.9h0M510.5 182.7h0M510.5 180.6h0M510.5 178.5h0M510.5 176.4h0M510.5 174.3h0M510.5 172.1h0M510.5 170.0h0M510.5 167.9h0M510.5 165.8h0M510.5 163.7h0M510.5 161.6h0M510.5 159.4h0M510.5 155.5h0M513.8 240.1h0M513.8 197.8h0M513.8 195.5h0M513.8 193.1h0M513.8 190.8h0M513.8 188.5h0M513.8 186.1h0M513.8 183.8h0M513.8 181.5h0M513.8 179.1h0M513.8 176.8h0M513.8 172.1h0M513.8 167.5h0M513.8 164.2h0M513.8 159.9h0M517.0 229.3h0M517.0 227.1h0M517.0 224.9h0M517.0 221.7h0M517.0 219.2h0M517.0 216.7h0M517.0 214.2h0M517.0 211.7h0M517.0 209.2h0M517.0 206.7h0M517.0 204.2h0M517.0 201.7h0M517.0 199.2h0M517.0 196.7h0M517.0 193.5h0M517.0 188.1h0M517.0 184.8h0M517.0 179.4h0M517.0 175.0h0M517.0 169.0h0M520.3 228.2h0M520.3 224.9h0M520.3 205.4h0M520.3 202.2h0M520.3 198.9h0M520.3 195.0h0M520.3 178.3h0M520.3 172.9h0M523.6 239.0h0M523.6 231.4h0M523.6 219.5h0M523.6 206.5h0M523.6 202.2h0M523.6 200.0h0M523.6 190.7h0M523.6 164.2h0M523.6 162.0h0M526.8 231.9h0M526.8 217.3h0M526.8 207.1h0M526.8 202.2h0M526.8 163.8h0M530.1 213.0h0M536.6 214.5h0" stroke="#4972b6" stroke-width="1.7" stroke-linecap="round" fill="none"/><path d="M491.0 218.3h0M491.0 213.0h0M494.2 187.7h0M494.2 211.2h0M497.5 203.1h0M497.5 202.1h0M497.5 179.5h0M500.7 233.0h0M500.7 223.0h0M500.7 181.2h0M500.7 181.7h0M500.7 184.0h0M504.0 232.4h0M504.0 212.0h0M504.0 161.1h0M504.0 206.4h0M504.0 226.4h0M504.0 165.2h0M504.0 192.3h0M507.3 174.2h0M507.3 233.2h0M507.3 185.1h0M507.3 178.0h0M507.3 173.6h0M507.3 222.5h0M507.3 171.8h0M507.3 233.5h0M510.5 221.8h0M510.5 214.8h0M510.5 215.3h0M510.5 226.6h0M510.5 222.0h0M510.5 202.5h0M510.5 201.7h0M513.8 221.3h0M513.8 224.0h0M513.8 230.1h0M513.8 222.2h0M513.8 222.3h0M513.8 217.0h0M513.8 202.6h0" stroke="#fff" stroke-width="1.1" stroke-linecap="round" fill="none" opacity="0.65"/><path d="M455.10 248.70v4.55M487.70 248.70v4.55M520.30 248.70v4.55M454.00 224.35h-4.55M454.00 194.45h-4.55M454.00 164.55h-4.55" stroke="#1c1c1c" stroke-width="1.05" fill="none"/><path d="M45.60 278.60V383.40H133.60" fill="none" stroke="#1c1c1c" stroke-width="1.05" stroke-linecap="square"/><path d="M98.9 284.6H101.2M55.9 287.1H110.4M115.1 287.1H115.6M52.4 289.6H115.6M55.4 292.1H116.5M55.4 294.7H120.0M55.4 297.2H116.5M120.3 297.2H120.8M58.9 299.7H121.7M54.2 302.3H112.1M55.4 304.8H114.7M50.7 307.3H110.4M55.0 309.9H112.1M53.3 312.4H110.4M54.2 314.9H128.7M55.0 317.4H127.8M52.4 320.0H113.9M52.4 322.5H112.1M57.7 325.0H120.8M56.8 327.6H123.4M62.0 330.1H65.2M68.1 330.1H120.0M59.9 332.6H120.0M61.1 335.2H66.0M71.6 335.2H120.8M59.4 337.7H125.2M59.4 340.2H120.8M123.8 340.2H125.2M59.4 342.8H72.1M75.1 342.8H126.9M56.8 345.3H125.2M59.4 347.8H126.9M55.9 350.3H56.5M60.3 350.3H123.4M61.1 352.9H110.4M114.2 352.9H127.8M56.8 355.4H126.9M55.4 357.9H127.8M55.9 360.5H126.1M55.9 363.0H95.6M98.9 363.0H126.1M57.1 365.5H108.7M57.7 368.1H74.7M78.5 368.1H106.9M57.7 370.6H100.8M61.1 373.1H110.4M115.1 373.1H115.6M62.0 375.6H108.7M59.4 378.2H60.8M63.7 378.2H108.7" stroke="#4972b6" stroke-width="1.55" stroke-linecap="round" fill="none"/><path d="M60.0 284.6h0M64.9 284.6h0M69.2 284.6h0M71.8 284.6h0M73.9 284.6h0M76.2 284.6h0M85.4 284.6h0M89.6 284.6h0M51.8 287.1h0M51.8 292.1h0M116.2 302.3h0M114.5 312.4h0M50.1 317.4h0M118.0 320.0h0M115.0 322.5h0M58.8 330.1h0M57.1 352.9h0M51.8 357.9h0M53.6 365.5h0M104.0 370.6h0M107.5 370.6h0" stroke="#4972b6" stroke-width="1.7" stroke-linecap="round" fill="none"/><path d="M65.1 287.1h0M105.3 289.6h0M99.1 289.6h0M70.7 292.1h0M114.4 294.7h0M117.1 294.7h0M70.3 297.2h0M72.4 297.2h0M116.4 299.7h0M93.6 299.7h0M66.6 302.3h0M59.2 302.3h0M57.0 304.8h0M95.7 304.8h0M105.4 307.3h0M104.9 307.3h0M87.1 309.9h0M109.3 312.4h0M124.8 314.9h0M100.0 314.9h0M78.5 314.9h0M121.1 317.4h0M97.2 317.4h0M87.5 320.0h0M66.8 320.0h0M57.9 322.5h0M68.1 322.5h0M69.1 325.0h0M85.8 325.0h0M104.7 327.6h0M94.8 327.6h0M79.4 330.1h0M90.8 332.6h0M95.7 332.6h0M76.8 335.2h0M110.5 335.2h0M92.9 337.7h0M113.4 337.7h0M90.3 340.2h0M101.3 340.2h0M111.5 342.8h0M102.8 342.8h0M94.1 345.3h0M116.1 345.3h0M68.8 347.8h0M113.9 347.8h0M99.5 350.3h0M75.8 350.3h0M62.8 352.9h0M81.7 352.9h0M121.6 352.9h0M88.2 355.4h0M86.9 355.4h0M57.6 355.4h0M100.6 357.9h0M73.6 357.9h0M98.7 357.9h0M58.5 360.5h0M106.5 360.5h0M84.9 363.0h0M59.7 363.0h0M73.9 363.0h0M93.5 363.0h0M66.9 363.0h0M80.0 363.0h0M77.8 363.0h0M77.6 363.0h0M107.7 363.0h0M106.4 363.0h0M108.3 363.0h0M110.9 363.0h0M103.3 363.0h0M106.7 365.5h0M105.3 365.5h0M101.3 365.5h0M93.5 365.5h0M99.9 365.5h0M106.9 365.5h0M92.5 365.5h0M74.1 365.5h0M100.7 365.5h0M87.1 365.5h0M59.3 368.1h0M65.4 368.1h0M63.3 368.1h0M58.5 368.1h0M99.3 368.1h0M91.6 368.1h0M98.3 368.1h0M80.4 368.1h0M90.9 368.1h0M94.3 368.1h0M91.5 370.6h0M73.0 370.6h0M64.0 370.6h0M83.8 370.6h0M92.3 370.6h0M75.1 370.6h0M60.3 370.6h0M89.7 370.6h0M85.5 370.6h0M85.0 373.1h0M86.8 373.1h0M86.5 373.1h0M74.7 373.1h0M99.0 373.1h0M85.4 373.1h0M80.0 373.1h0M80.4 373.1h0M96.5 373.1h0M78.4 373.1h0M85.6 375.6h0M72.8 375.6h0M63.0 375.6h0M99.9 375.6h0M103.6 375.6h0M78.9 375.6h0M90.6 375.6h0M105.6 375.6h0M76.9 375.6h0M106.0 375.6h0M72.0 378.2h0M86.5 378.2h0M88.0 378.2h0M102.6 378.2h0M84.3 378.2h0M72.9 378.2h0M81.7 378.2h0M64.9 378.2h0M67.8 378.2h0" stroke="#fff" stroke-width="1.1" stroke-linecap="round" fill="none" opacity="0.65"/><path d="M80.50 383.40v4.55M115.40 383.40v4.55M45.60 380.70h-4.55M45.60 355.40h-4.55M45.60 330.10h-4.55M45.60 304.80h-4.55M45.60 279.50h-4.55" stroke="#1c1c1c" stroke-width="1.05" fill="none"/><text transform="translate(38.35 383.80) scale(1 1.08)" text-anchor="end" font-size="8.8">940</text><text transform="translate(38.35 358.50) scale(1 1.08)" text-anchor="end" font-size="8.8">950</text><text transform="translate(38.35 333.20) scale(1 1.08)" text-anchor="end" font-size="8.8">960</text><text transform="translate(38.35 307.90) scale(1 1.08)" text-anchor="end" font-size="8.8">970</text><text transform="translate(38.35 282.60) scale(1 1.08)" text-anchor="end" font-size="8.8">980</text><text transform="translate(19.2 331.00) rotate(-90) scale(1 1.08)" text-anchor="middle" font-size="9.25">air_pressure</text><path d="M181.80 278.60V383.40H269.80" fill="none" stroke="#1c1c1c" stroke-width="1.05" stroke-linecap="square"/><path d="M199.0 284.6H201.0M195.6 287.1H203.0M193.0 289.6H217.4M225.0 289.6H231.8M193.0 292.1H204.4M208.2 292.1H224.4M230.6 292.1H235.4M193.0 294.7H223.8M227.0 294.7H237.8M194.2 297.2H232.4M197.6 299.7H199.4M204.2 299.7H222.4M197.0 302.3H199.4M204.6 302.3H222.4M198.2 304.8H222.4M203.6 307.3H222.4M204.2 309.9H223.8M204.2 312.4H219.4M223.6 312.4H229.4M198.2 314.9H237.4M241.6 314.9H250.4M196.6 317.4H197.4M200.6 317.4H249.4M195.0 320.0H197.4M204.2 320.0H243.4M193.0 322.5H238.4M192.6 325.0H217.8M225.6 325.0H231.0M192.2 327.6H216.4M196.6 330.1H198.4M202.2 330.1H213.4M224.2 330.1H228.4M194.2 332.6H195.8M205.6 332.6H218.4M223.6 332.6H225.8M245.6 332.6H250.4M193.0 335.2H194.4M208.6 335.2H224.4M240.6 335.2H256.4M190.6 337.7H191.4M207.6 337.7H210.4M216.2 337.7H235.4M239.6 337.7H241.4M248.6 337.7H257.4M187.6 340.2H189.0M204.6 340.2H211.4M215.0 340.2H258.4M187.0 342.8H188.4M204.6 342.8H258.4M187.6 345.3H189.0M206.2 345.3H209.4M215.6 345.3H260.4M188.2 347.8H189.4M206.6 347.8H209.4M218.6 347.8H264.4M188.6 350.3H189.4M212.6 350.3H233.4M239.6 350.3H243.4M255.6 350.3H261.4M190.2 352.9H191.0M194.2 352.9H196.4M212.2 352.9H223.8M234.6 352.9H238.4M190.2 355.4H193.4M208.6 355.4H239.0M205.6 357.9H239.0M206.2 360.5H209.4M217.6 360.5H235.4M218.6 363.0H238.4M221.6 365.5H233.4M236.6 365.5H238.4M221.6 368.1H233.4M237.0 368.1H238.4M221.6 370.6H232.4M219.6 373.1H231.4M234.6 373.1H239.4M242.6 373.1H244.4M219.6 375.6H232.4M235.6 375.6H239.8M220.6 378.2H231.8" stroke="#4972b6" stroke-width="1.7" stroke-linecap="round" fill="none"/><path d="M219.6 330.1h0M198.0 350.3h0M200.4 350.3h0M202.8 350.3h0M205.0 350.3h0" stroke="#4972b6" stroke-width="1.7" stroke-linecap="round" fill="none"/><path d="M214.9 289.6h0M221.4 292.1h0M201.1 294.7h0M196.1 297.2h0M208.3 299.7h0M208.1 302.3h0M207.8 304.8h0M209.9 307.3h0M210.1 312.4h0M227.2 312.4h0M218.4 314.9h0M220.6 317.4h0M206.5 317.4h0M237.3 320.0h0M204.1 322.5h0M208.0 327.6h0M205.1 330.1h0M212.4 332.6h0M216.2 335.2h0M228.3 337.7h0M207.2 340.2h0M250.2 340.2h0M242.4 342.8h0M227.3 345.3h0M241.0 347.8h0M224.3 347.8h0M232.5 350.3h0M218.7 355.4h0M225.7 357.9h0M229.7 375.6h0" stroke="#fff" stroke-width="1.1" stroke-linecap="round" fill="none" opacity="0.65"/><path d="M202.30 383.40v4.55M252.80 383.40v4.55M181.80 380.70h-4.55M181.80 355.40h-4.55M181.80 330.10h-4.55M181.80 304.80h-4.55M181.80 279.50h-4.55" stroke="#1c1c1c" stroke-width="1.05" fill="none"/><path d="M317.80 278.60V383.40H405.80" fill="none" stroke="#1c1c1c" stroke-width="1.05" stroke-linecap="square"/><rect x="322.40" y="372.90" width="7.87" height="11.05" fill="#4c72b0" stroke="#fff" stroke-width=".55"/><rect x="330.26" y="348.80" width="7.87" height="35.15" fill="#4c72b0" stroke="#fff" stroke-width=".55"/><rect x="338.13" y="324.00" width="7.87" height="59.95" fill="#4c72b0" stroke="#fff" stroke-width=".55"/><rect x="346.00" y="309.40" width="7.87" height="74.55" fill="#4c72b0" stroke="#fff" stroke-width=".55"/><rect x="353.86" y="336.90" width="7.87" height="47.05" fill="#4c72b0" stroke="#fff" stroke-width=".55"/><rect x="361.73" y="283.50" width="7.87" height="100.45" fill="#4c72b0" stroke="#fff" stroke-width=".55"/><rect x="369.59" y="319.20" width="7.87" height="64.75" fill="#4c72b0" stroke="#fff" stroke-width=".55"/><rect x="377.45" y="338.80" width="7.87" height="45.15" fill="#4c72b0" stroke="#fff" stroke-width=".55"/><rect x="385.32" y="315.40" width="7.87" height="68.55" fill="#4c72b0" stroke="#fff" stroke-width=".55"/><rect x="393.19" y="336.50" width="7.87" height="47.45" fill="#4c72b0" stroke="#fff" stroke-width=".55"/><path d="M320.30 383.40v4.55M362.80 383.40v4.55M405.30 383.40v4.55M317.80 380.70h-4.55M317.80 355.40h-4.55M317.80 330.10h-4.55M317.80 304.80h-4.55M317.80 279.50h-4.55" stroke="#1c1c1c" stroke-width="1.05" fill="none"/><path d="M454.00 278.60V383.40H542.00" fill="none" stroke="#1c1c1c" stroke-width="1.05" stroke-linecap="square"/><path d="M458.4 357.9h0M458.4 327.6h0M458.4 322.5h0M458.4 289.6h0M458.4 287.1h0M461.6 294.7h0M474.7 378.2h0M474.7 375.6h0M474.7 373.1h0M474.7 370.6h0M474.7 368.1h0M474.7 365.5h0M474.7 363.0h0M474.7 360.5h0M474.7 357.9h0M474.7 355.4h0M474.7 352.9h0M474.7 350.3h0M474.7 347.8h0M474.7 345.3h0M474.7 342.8h0M474.7 340.2h0M474.7 337.7h0M474.7 335.2h0M474.7 332.6h0M474.7 330.1h0M474.7 327.6h0M474.7 325.0h0M474.7 322.5h0M474.7 320.0h0M474.7 317.4h0M474.7 314.9h0M474.7 312.4h0M474.7 309.9h0M474.7 307.3h0M474.7 304.8h0M474.7 302.3h0M474.7 299.7h0M474.7 297.2h0M474.7 294.7h0M474.7 292.1h0M474.7 289.6h0M474.7 287.1h0M474.7 284.6h0M477.9 378.2h0M477.9 375.6h0M477.9 373.1h0M477.9 370.6h0M477.9 368.1h0M477.9 365.5h0M477.9 363.0h0M477.9 360.5h0M477.9 357.9h0M477.9 355.4h0M477.9 352.9h0M477.9 350.3h0M477.9 347.8h0M477.9 345.3h0M477.9 342.8h0M477.9 340.2h0M477.9 337.7h0M477.9 335.2h0M477.9 332.6h0M477.9 330.1h0M477.9 327.6h0M477.9 325.0h0M477.9 322.5h0M477.9 320.0h0M477.9 317.4h0M477.9 314.9h0M477.9 312.4h0M477.9 309.9h0M477.9 307.3h0M477.9 304.8h0M477.9 302.3h0M477.9 299.7h0M477.9 297.2h0M477.9 294.7h0M477.9 292.1h0M477.9 289.6h0M477.9 287.1h0M477.9 284.6h0M481.2 378.2h0M481.2 375.6h0M481.2 373.1h0M481.2 370.6h0M481.2 368.1h0M481.2 365.5h0M481.2 363.0h0M481.2 360.5h0M481.2 357.9h0M481.2 355.4h0M481.2 352.9h0M481.2 350.3h0M481.2 347.8h0M481.2 345.3h0M481.2 342.8h0M481.2 340.2h0M481.2 337.7h0M481.2 335.2h0M481.2 332.6h0M481.2 330.1h0M481.2 327.6h0M481.2 325.0h0M481.2 322.5h0M481.2 320.0h0M481.2 317.4h0M481.2 314.9h0M481.2 312.4h0M481.2 309.9h0M481.2 307.3h0M481.2 304.8h0M481.2 302.3h0M481.2 299.7h0M481.2 297.2h0M481.2 294.7h0M481.2 292.1h0M481.2 289.6h0M481.2 287.1h0M481.2 284.6h0M484.4 378.2h0M484.4 375.6h0M484.4 373.1h0M484.4 370.6h0M484.4 368.1h0M484.4 365.5h0M484.4 363.0h0M484.4 360.5h0M484.4 357.9h0M484.4 355.4h0M484.4 352.9h0M484.4 350.3h0M484.4 347.8h0M484.4 345.3h0M484.4 342.8h0M484.4 340.2h0M484.4 337.7h0M484.4 335.2h0M484.4 332.6h0M484.4 330.1h0M484.4 327.6h0M484.4 325.0h0M484.4 322.5h0M484.4 320.0h0M484.4 317.4h0M484.4 314.9h0M484.4 312.4h0M484.4 309.9h0M484.4 307.3h0M484.4 304.8h0M484.4 302.3h0M484.4 299.7h0M484.4 297.2h0M484.4 294.7h0M484.4 292.1h0M484.4 289.6h0M484.4 287.1h0M484.4 284.6h0M487.7 378.2h0M487.7 375.6h0M487.7 373.1h0M487.7 370.6h0M487.7 368.1h0M487.7 365.5h0M487.7 363.0h0M487.7 360.5h0M487.7 357.9h0M487.7 355.4h0M487.7 352.9h0M487.7 350.3h0M487.7 347.8h0M487.7 345.3h0M487.7 342.8h0M487.7 340.2h0M487.7 337.7h0M487.7 335.2h0M487.7 332.6h0M487.7 330.1h0M487.7 327.6h0M487.7 325.0h0M487.7 322.5h0M487.7 320.0h0M487.7 317.4h0M487.7 314.9h0M487.7 312.4h0M487.7 309.9h0M487.7 307.3h0M487.7 304.8h0M487.7 302.3h0M487.7 299.7h0M487.7 297.2h0M487.7 294.7h0M487.7 292.1h0M487.7 289.6h0M487.7 287.1h0M487.7 284.6h0M491.0 378.2h0M491.0 375.6h0M491.0 373.1h0M491.0 370.6h0M491.0 368.1h0M491.0 365.5h0M491.0 363.0h0M491.0 360.5h0M491.0 357.9h0M491.0 355.4h0M491.0 352.9h0M491.0 350.3h0M491.0 347.8h0M491.0 345.3h0M491.0 342.8h0M491.0 340.2h0M491.0 337.7h0M491.0 335.2h0M491.0 332.6h0M491.0 330.1h0M491.0 327.6h0M491.0 325.0h0M491.0 322.5h0M491.0 320.0h0M491.0 317.4h0M491.0 314.9h0M491.0 312.4h0M491.0 309.9h0M491.0 307.3h0M491.0 304.8h0M491.0 302.3h0M491.0 299.7h0M491.0 297.2h0M491.0 294.7h0M491.0 292.1h0M491.0 289.6h0M491.0 287.1h0M494.2 378.2h0M494.2 375.6h0M494.2 373.1h0M494.2 370.6h0M494.2 368.1h0M494.2 365.5h0M494.2 363.0h0M494.2 360.5h0M494.2 357.9h0M494.2 355.4h0M494.2 352.9h0M494.2 350.3h0M494.2 347.8h0M494.2 345.3h0M494.2 342.8h0M494.2 340.2h0M494.2 337.7h0M494.2 335.2h0M494.2 332.6h0M494.2 330.1h0M494.2 327.6h0M494.2 325.0h0M494.2 322.5h0M494.2 320.0h0M494.2 317.4h0M494.2 314.9h0M494.2 312.4h0M494.2 309.9h0M494.2 307.3h0M494.2 304.8h0M494.2 302.3h0M494.2 299.7h0M494.2 297.2h0M494.2 294.7h0M494.2 292.1h0M494.2 289.6h0M494.2 287.1h0M497.5 375.6h0M497.5 373.1h0M497.5 370.6h0M497.5 363.0h0M497.5 360.5h0M497.5 357.9h0M497.5 355.4h0M497.5 352.9h0M497.5 350.3h0M497.5 347.8h0M497.5 345.3h0M497.5 342.8h0M497.5 340.2h0M497.5 337.7h0M497.5 335.2h0M497.5 332.6h0M497.5 330.1h0M497.5 327.6h0M497.5 325.0h0M497.5 322.5h0M497.5 320.0h0M497.5 317.4h0M497.5 314.9h0M497.5 312.4h0M497.5 309.9h0M497.5 307.3h0M497.5 304.8h0M497.5 302.3h0M497.5 299.7h0M497.5 297.2h0M497.5 294.7h0M497.5 292.1h0M497.5 289.6h0M497.5 287.1h0M500.7 378.2h0M500.7 375.6h0M500.7 373.1h0M500.7 370.6h0M500.7 368.1h0M500.7 365.5h0M500.7 363.0h0M500.7 360.5h0M500.7 357.9h0M500.7 355.4h0M500.7 352.9h0M500.7 350.3h0M500.7 347.8h0M500.7 345.3h0M500.7 342.8h0M500.7 340.2h0M500.7 337.7h0M500.7 335.2h0M500.7 332.6h0M500.7 330.1h0M500.7 327.6h0M500.7 325.0h0M500.7 322.5h0M500.7 320.0h0M500.7 317.4h0M500.7 314.9h0M500.7 312.4h0M500.7 309.9h0M500.7 307.3h0M500.7 304.8h0M500.7 302.3h0M500.7 299.7h0M500.7 297.2h0M500.7 294.7h0M500.7 292.1h0M500.7 289.6h0M500.7 287.1h0M500.7 284.6h0M504.0 378.2h0M504.0 375.6h0M504.0 373.1h0M504.0 370.6h0M504.0 368.1h0M504.0 365.5h0M504.0 363.0h0M504.0 360.5h0M504.0 357.9h0M504.0 355.4h0M504.0 352.9h0M504.0 350.3h0M504.0 347.8h0M504.0 345.3h0M504.0 342.8h0M504.0 340.2h0M504.0 337.7h0M504.0 335.2h0M504.0 332.6h0M504.0 330.1h0M504.0 327.6h0M504.0 325.0h0M504.0 322.5h0M504.0 320.0h0M504.0 317.4h0M504.0 314.9h0M504.0 312.4h0M504.0 309.9h0M504.0 307.3h0M504.0 304.8h0M504.0 302.3h0M504.0 299.7h0M504.0 297.2h0M504.0 294.7h0M504.0 292.1h0M504.0 289.6h0M504.0 287.1h0M507.3 378.2h0M507.3 373.1h0M507.3 370.6h0M507.3 368.1h0M507.3 365.5h0M507.3 363.0h0M507.3 360.5h0M507.3 357.9h0M507.3 355.4h0M507.3 352.9h0M507.3 350.3h0M507.3 347.8h0M507.3 345.3h0M507.3 342.8h0M507.3 340.2h0M507.3 337.7h0M507.3 335.2h0M507.3 332.6h0M507.3 330.1h0M507.3 327.6h0M507.3 325.0h0M507.3 322.5h0M507.3 320.0h0M507.3 317.4h0M507.3 314.9h0M507.3 312.4h0M507.3 309.9h0M507.3 307.3h0M507.3 304.8h0M507.3 302.3h0M507.3 299.7h0M507.3 297.2h0M507.3 294.7h0M507.3 292.1h0M507.3 289.6h0M507.3 287.1h0M510.5 378.2h0M510.5 375.6h0M510.5 373.1h0M510.5 368.1h0M510.5 365.5h0M510.5 363.0h0M510.5 360.5h0M510.5 357.9h0M510.5 355.4h0M510.5 350.3h0M510.5 347.8h0M510.5 345.3h0M510.5 342.8h0M510.5 340.2h0M510.5 337.7h0M510.5 335.2h0M510.5 332.6h0M510.5 330.1h0M510.5 327.6h0M510.5 325.0h0M510.5 322.5h0M510.5 320.0h0M510.5 317.4h0M510.5 314.9h0M510.5 312.4h0M510.5 309.9h0M510.5 307.3h0M510.5 304.8h0M510.5 302.3h0M510.5 299.7h0M510.5 297.2h0M510.5 294.7h0M510.5 292.1h0M510.5 289.6h0M510.5 287.1h0M513.8 375.6h0M513.8 370.6h0M513.8 365.5h0M513.8 360.5h0M513.8 357.9h0M513.8 355.4h0M513.8 352.9h0M513.8 350.3h0M513.8 347.8h0M513.8 345.3h0M513.8 342.8h0M513.8 340.2h0M513.8 330.1h0M513.8 327.6h0M513.8 325.0h0M513.8 322.5h0M513.8 320.0h0M513.8 317.4h0M513.8 314.9h0M513.8 312.4h0M513.8 309.9h0M513.8 307.3h0M513.8 304.8h0M513.8 302.3h0M513.8 299.7h0M513.8 297.2h0M513.8 294.7h0M513.8 292.1h0M513.8 289.6h0M513.8 287.1h0M517.0 375.6h0M517.0 368.1h0M517.0 365.5h0M517.0 357.9h0M517.0 350.3h0M517.0 347.8h0M517.0 345.3h0M517.0 342.8h0M517.0 340.2h0M517.0 337.7h0M517.0 332.6h0M517.0 330.1h0M517.0 327.6h0M517.0 325.0h0M517.0 322.5h0M517.0 320.0h0M517.0 317.4h0M517.0 312.4h0M517.0 307.3h0M517.0 304.8h0M517.0 302.3h0M517.0 299.7h0M517.0 297.2h0M517.0 294.7h0M517.0 292.1h0M517.0 289.6h0M517.0 287.1h0M520.3 375.6h0M520.3 363.0h0M520.3 360.5h0M520.3 345.3h0M520.3 337.7h0M520.3 327.6h0M520.3 325.0h0M520.3 322.5h0M520.3 317.4h0M520.3 314.9h0M520.3 312.4h0M520.3 304.8h0M520.3 302.3h0M520.3 299.7h0M523.6 347.8h0M523.6 345.3h0M523.6 340.2h0M523.6 325.0h0M523.6 299.7h0M523.6 297.2h0M526.8 357.9h0M526.8 345.3h0M526.8 307.3h0M526.8 299.7h0M526.8 294.7h0M530.1 304.8h0M536.6 332.6h0" stroke="#4972b6" stroke-width="1.7" stroke-linecap="round" fill="none"/><path d="M455.10 383.40v4.55M487.70 383.40v4.55M520.30 383.40v4.55M454.00 380.70h-4.55M454.00 355.40h-4.55M454.00 330.10h-4.55M454.00 304.80h-4.55M454.00 279.50h-4.55" stroke="#1c1c1c" stroke-width="1.05" fill="none"/><path d="M45.60 413.70V518.70H133.60" fill="none" stroke="#1c1c1c" stroke-width="1.05" stroke-linecap="square"/><path d="M50.7 493.8H126.0M50.7 489.9H127.3M52.0 485.9H127.7M53.4 482.0H127.9M54.3 478.1H128.2M56.7 474.2H125.5M58.0 470.3H126.4M58.9 466.3H128.2M58.9 462.4H125.5M58.5 458.5H126.4M58.9 454.6H62.3M66.2 454.6H127.3M66.2 450.7H125.5M69.0 446.7H94.3M108.4 442.8H109.0M82.4 438.9H84.3M95.5 438.9H103.5M94.6 435.0H97.1" stroke="#4972b6" stroke-width="1.65" stroke-linecap="round" fill="none"/><path d="M73.0 513.4h0M88.9 513.4h0M95.5 513.4h0M101.7 513.4h0M108.7 513.4h0M81.2 509.5h0M51.9 466.3h0M54.7 462.4h0M129.7 462.4h0M58.3 450.7h0M60.5 450.7h0M62.9 450.7h0M60.1 446.7h0M62.3 446.7h0M65.3 446.7h0M95.9 446.7h0M100.2 446.7h0M102.4 446.7h0M104.5 446.7h0M106.7 446.7h0M108.8 446.7h0M111.0 446.7h0M113.2 446.7h0M115.3 446.7h0M119.7 446.7h0M60.1 442.8h0M75.7 442.8h0M78.2 442.8h0M80.6 442.8h0M83.0 442.8h0M85.5 442.8h0M87.9 442.8h0M90.4 442.8h0M92.8 442.8h0M95.3 442.8h0M102.6 442.8h0M105.0 442.8h0M113.3 442.8h0M116.0 442.8h0M118.8 442.8h0M67.8 438.9h0M76.6 438.9h0M79.4 438.9h0M88.5 438.9h0M90.4 438.9h0M110.5 438.9h0M115.1 438.9h0M119.1 438.9h0M79.0 435.0h0M84.0 435.0h0M90.4 435.0h0M104.1 435.0h0M112.3 435.0h0M115.5 435.0h0M94.9 431.1h0M98.6 431.1h0M103.2 431.1h0M117.8 431.1h0M76.3 427.1h0M90.4 419.3h0" stroke="#4972b6" stroke-width="1.7" stroke-linecap="round" fill="none"/><path d="M107.4 474.2h0M110.1 474.2h0M119.1 470.3h0M71.3 470.3h0M101.6 466.3h0M81.7 466.3h0M76.7 466.3h0M121.9 462.4h0M86.0 462.4h0M70.4 462.4h0M64.1 462.4h0M62.0 458.5h0M124.6 458.5h0M107.6 458.5h0M122.5 458.5h0M79.1 458.5h0M93.8 458.5h0M73.1 458.5h0M61.1 454.6h0M116.7 454.6h0M74.7 454.6h0M111.8 454.6h0M124.7 454.6h0M109.2 454.6h0M117.7 454.6h0M109.5 454.6h0M97.5 450.7h0M92.8 450.7h0M92.7 450.7h0M74.7 450.7h0M72.0 450.7h0M118.9 450.7h0M74.0 450.7h0M69.1 450.7h0M95.6 450.7h0M78.6 446.7h0M72.4 446.7h0M88.1 446.7h0M82.4 446.7h0M86.5 446.7h0M74.2 446.7h0" stroke="#fff" stroke-width="1.1" stroke-linecap="round" fill="none" opacity="0.65"/><path d="M80.50 518.70v4.55M115.40 518.70v4.55M45.60 517.30h-4.55M45.60 497.70h-4.55M45.60 478.10h-4.55M45.60 458.50h-4.55M45.60 438.90h-4.55M45.60 419.30h-4.55" stroke="#1c1c1c" stroke-width="1.05" fill="none"/><text transform="translate(80.50 532.15) scale(1 1.08)" text-anchor="middle" font-size="8.8">21.0</text><text transform="translate(115.40 532.15) scale(1 1.08)" text-anchor="middle" font-size="8.8">21.5</text><text transform="translate(89.60 544.2) scale(1 1.08)" text-anchor="middle" font-size="9.25">temp_avg</text><text transform="translate(38.35 520.40) scale(1 1.08)" text-anchor="end" font-size="8.8">0.00</text><text transform="translate(38.35 500.80) scale(1 1.08)" text-anchor="end" font-size="8.8">0.05</text><text transform="translate(38.35 481.20) scale(1 1.08)" text-anchor="end" font-size="8.8">0.10</text><text transform="translate(38.35 461.60) scale(1 1.08)" text-anchor="end" font-size="8.8">0.15</text><text transform="translate(38.35 442.00) scale(1 1.08)" text-anchor="end" font-size="8.8">0.20</text><text transform="translate(38.35 422.40) scale(1 1.08)" text-anchor="end" font-size="8.8">0.25</text><text transform="translate(17.3 466.20) rotate(-90) scale(1 1.08)" text-anchor="middle" font-size="9.25">airflow</text><path d="M181.80 413.70V518.70H269.80" fill="none" stroke="#1c1c1c" stroke-width="1.05" stroke-linecap="square"/><path d="M186.8 493.8H264.4M186.8 489.9H264.9M186.8 485.9H263.5M187.8 482.0H260.7M187.8 478.1H261.3M187.8 474.2H258.9M192.9 470.3H258.0M188.1 466.3H249.7M188.1 462.4H258.0M193.6 458.5H258.0M193.6 454.6H250.7M194.2 450.7H232.3M196.9 446.7H223.2M206.1 438.9H214.0" stroke="#4972b6" stroke-width="1.65" stroke-linecap="round" fill="none"/><path d="M195.2 513.4h0M200.2 513.4h0M211.3 513.4h0M219.9 513.4h0M200.3 509.5h0M262.2 474.2h0M187.5 470.3h0M189.9 470.3h0M261.3 470.3h0M264.1 470.3h0M251.6 466.3h0M253.9 466.3h0M256.3 466.3h0M258.6 466.3h0M262.2 466.3h0M261.9 462.4h0M190.5 458.5h0M263.7 458.5h0M189.4 454.6h0M252.7 454.6h0M254.9 454.6h0M257.1 454.6h0M260.4 454.6h0M233.9 450.7h0M236.0 450.7h0M238.1 450.7h0M240.2 450.7h0M242.3 450.7h0M244.4 450.7h0M246.5 450.7h0M250.8 450.7h0M252.9 450.7h0M255.0 450.7h0M257.1 450.7h0M260.4 450.7h0M189.0 446.7h0M224.7 446.7h0M227.0 446.7h0M231.7 446.7h0M234.0 446.7h0M236.4 446.7h0M238.7 446.7h0M241.0 446.7h0M243.4 446.7h0M245.7 446.7h0M248.0 446.7h0M250.3 446.7h0M253.1 446.7h0M256.8 446.7h0M196.3 442.8h0M199.1 442.8h0M201.8 442.8h0M204.6 442.8h0M207.2 442.8h0M209.8 442.8h0M212.5 442.8h0M217.7 442.8h0M220.4 442.8h0M223.0 442.8h0M225.6 442.8h0M228.4 442.8h0M232.9 442.8h0M235.7 442.8h0M240.3 442.8h0M243.9 442.8h0M249.1 442.8h0M199.1 438.9h0M201.8 438.9h0M218.3 438.9h0M221.0 438.9h0M223.8 438.9h0M227.1 438.9h0M241.2 438.9h0M245.8 438.9h0M189.9 435.0h0M196.3 435.0h0M206.4 435.0h0M217.4 435.0h0M221.0 435.0h0M222.9 435.0h0M230.7 435.0h0M253.1 435.0h0M254.9 435.0h0M195.9 431.1h0M208.2 431.1h0M216.8 431.1h0M221.0 431.1h0M253.5 431.1h0M211.9 427.1h0M210.6 419.3h0" stroke="#4972b6" stroke-width="1.7" stroke-linecap="round" fill="none"/><path d="M204.3 474.2h0M256.7 474.2h0M223.3 470.3h0M248.8 470.3h0M221.7 466.3h0M210.6 466.3h0M213.8 466.3h0M248.2 466.3h0M194.3 462.4h0M214.3 462.4h0M189.7 462.4h0M193.9 462.4h0M214.5 458.5h0M223.9 458.5h0M226.9 458.5h0M237.2 458.5h0M217.6 458.5h0M223.9 458.5h0M238.4 454.6h0M221.4 454.6h0M222.9 454.6h0M217.3 454.6h0M202.4 454.6h0M237.3 454.6h0M229.5 450.7h0M217.0 450.7h0M222.8 450.7h0M199.1 450.7h0M197.7 450.7h0M228.4 450.7h0M216.3 446.7h0M204.6 446.7h0M210.8 446.7h0M210.5 446.7h0M218.5 446.7h0M215.1 446.7h0" stroke="#fff" stroke-width="1.1" stroke-linecap="round" fill="none" opacity="0.65"/><path d="M202.30 518.70v4.55M252.80 518.70v4.55M181.80 517.30h-4.55M181.80 497.70h-4.55M181.80 478.10h-4.55M181.80 458.50h-4.55M181.80 438.90h-4.55M181.80 419.30h-4.55" stroke="#1c1c1c" stroke-width="1.05" fill="none"/><text transform="translate(202.30 532.15) scale(1 1.08)" text-anchor="middle" font-size="8.8">20</text><text transform="translate(252.80 532.15) scale(1 1.08)" text-anchor="middle" font-size="8.8">40</text><text transform="translate(225.80 544.2) scale(1 1.08)" text-anchor="middle" font-size="9.25">air_humidity</text><path d="M317.80 413.70V518.70H405.80" fill="none" stroke="#1c1c1c" stroke-width="1.05" stroke-linecap="square"/><path d="M339.4 513.4h0M364.9 513.4h0M369.2 513.4h0M396.8 513.4h0M398.9 513.4h0M392.6 509.5h0M322.4 493.8h0M324.6 493.8h0M326.7 493.8h0M328.8 493.8h0M330.9 493.8h0M333.1 493.8h0M335.2 493.8h0M337.3 493.8h0M339.4 493.8h0M341.6 493.8h0M343.7 493.8h0M345.8 493.8h0M347.9 493.8h0M350.1 493.8h0M352.2 493.8h0M354.3 493.8h0M356.4 493.8h0M358.6 493.8h0M360.7 493.8h0M362.8 493.8h0M364.9 493.8h0M367.1 493.8h0M369.2 493.8h0M371.3 493.8h0M373.4 493.8h0M375.6 493.8h0M377.7 493.8h0M379.8 493.8h0M381.9 493.8h0M384.1 493.8h0M386.2 493.8h0M388.3 493.8h0M390.4 493.8h0M392.6 493.8h0M394.7 493.8h0M396.8 493.8h0M398.9 493.8h0M401.1 493.8h0M322.4 489.9h0M324.6 489.9h0M326.7 489.9h0M328.8 489.9h0M330.9 489.9h0M333.1 489.9h0M335.2 489.9h0M337.3 489.9h0M339.4 489.9h0M341.6 489.9h0M343.7 489.9h0M345.8 489.9h0M347.9 489.9h0M350.1 489.9h0M352.2 489.9h0M354.3 489.9h0M356.4 489.9h0M358.6 489.9h0M360.7 489.9h0M362.8 489.9h0M364.9 489.9h0M367.1 489.9h0M369.2 489.9h0M371.3 489.9h0M373.4 489.9h0M375.6 489.9h0M377.7 489.9h0M379.8 489.9h0M381.9 489.9h0M384.1 489.9h0M386.2 489.9h0M388.3 489.9h0M390.4 489.9h0M392.6 489.9h0M394.7 489.9h0M396.8 489.9h0M398.9 489.9h0M401.1 489.9h0M322.4 485.9h0M324.6 485.9h0M326.7 485.9h0M328.8 485.9h0M330.9 485.9h0M333.1 485.9h0M335.2 485.9h0M337.3 485.9h0M339.4 485.9h0M341.6 485.9h0M343.7 485.9h0M345.8 485.9h0M347.9 485.9h0M350.1 485.9h0M352.2 485.9h0M354.3 485.9h0M356.4 485.9h0M358.6 485.9h0M360.7 485.9h0M362.8 485.9h0M364.9 485.9h0M367.1 485.9h0M369.2 485.9h0M371.3 485.9h0M373.4 485.9h0M375.6 485.9h0M377.7 485.9h0M379.8 485.9h0M381.9 485.9h0M384.1 485.9h0M386.2 485.9h0M388.3 485.9h0M390.4 485.9h0M392.6 485.9h0M394.7 485.9h0M396.8 485.9h0M398.9 485.9h0M401.1 485.9h0M322.4 482.0h0M324.6 482.0h0M326.7 482.0h0M328.8 482.0h0M330.9 482.0h0M333.1 482.0h0M335.2 482.0h0M337.3 482.0h0M339.4 482.0h0M341.6 482.0h0M343.7 482.0h0M345.8 482.0h0M347.9 482.0h0M350.1 482.0h0M352.2 482.0h0M354.3 482.0h0M356.4 482.0h0M358.6 482.0h0M360.7 482.0h0M362.8 482.0h0M364.9 482.0h0M367.1 482.0h0M369.2 482.0h0M371.3 482.0h0M373.4 482.0h0M375.6 482.0h0M377.7 482.0h0M379.8 482.0h0M381.9 482.0h0M384.1 482.0h0M386.2 482.0h0M388.3 482.0h0M390.4 482.0h0M392.6 482.0h0M394.7 482.0h0M396.8 482.0h0M398.9 482.0h0M401.1 482.0h0M322.4 478.1h0M324.6 478.1h0M326.7 478.1h0M328.8 478.1h0M330.9 478.1h0M333.1 478.1h0M335.2 478.1h0M337.3 478.1h0M339.4 478.1h0M341.6 478.1h0M343.7 478.1h0M345.8 478.1h0M347.9 478.1h0M350.1 478.1h0M352.2 478.1h0M354.3 478.1h0M356.4 478.1h0M358.6 478.1h0M360.7 478.1h0M362.8 478.1h0M364.9 478.1h0M367.1 478.1h0M369.2 478.1h0M371.3 478.1h0M373.4 478.1h0M375.6 478.1h0M377.7 478.1h0M379.8 478.1h0M381.9 478.1h0M384.1 478.1h0M386.2 478.1h0M388.3 478.1h0M390.4 478.1h0M392.6 478.1h0M394.7 478.1h0M396.8 478.1h0M398.9 478.1h0M401.1 478.1h0M322.4 474.2h0M324.6 474.2h0M326.7 474.2h0M328.8 474.2h0M330.9 474.2h0M333.1 474.2h0M335.2 474.2h0M337.3 474.2h0M339.4 474.2h0M341.6 474.2h0M343.7 474.2h0M345.8 474.2h0M347.9 474.2h0M350.1 474.2h0M352.2 474.2h0M354.3 474.2h0M356.4 474.2h0M358.6 474.2h0M360.7 474.2h0M362.8 474.2h0M364.9 474.2h0M367.1 474.2h0M369.2 474.2h0M371.3 474.2h0M373.4 474.2h0M375.6 474.2h0M377.7 474.2h0M379.8 474.2h0M381.9 474.2h0M384.1 474.2h0M386.2 474.2h0M388.3 474.2h0M390.4 474.2h0M392.6 474.2h0M394.7 474.2h0M396.8 474.2h0M398.9 474.2h0M322.4 470.3h0M324.6 470.3h0M326.7 470.3h0M328.8 470.3h0M330.9 470.3h0M333.1 470.3h0M335.2 470.3h0M337.3 470.3h0M339.4 470.3h0M341.6 470.3h0M343.7 470.3h0M345.8 470.3h0M347.9 470.3h0M350.1 470.3h0M352.2 470.3h0M354.3 470.3h0M356.4 470.3h0M358.6 470.3h0M360.7 470.3h0M362.8 470.3h0M364.9 470.3h0M367.1 470.3h0M369.2 470.3h0M371.3 470.3h0M373.4 470.3h0M375.6 470.3h0M377.7 470.3h0M379.8 470.3h0M381.9 470.3h0M384.1 470.3h0M386.2 470.3h0M388.3 470.3h0M390.4 470.3h0M392.6 470.3h0M394.7 470.3h0M396.8 470.3h0M398.9 470.3h0M324.6 466.3h0M326.7 466.3h0M328.8 466.3h0M335.2 466.3h0M337.3 466.3h0M339.4 466.3h0M341.6 466.3h0M343.7 466.3h0M345.8 466.3h0M347.9 466.3h0M350.1 466.3h0M352.2 466.3h0M354.3 466.3h0M356.4 466.3h0M358.6 466.3h0M360.7 466.3h0M362.8 466.3h0M364.9 466.3h0M367.1 466.3h0M369.2 466.3h0M371.3 466.3h0M373.4 466.3h0M375.6 466.3h0M377.7 466.3h0M379.8 466.3h0M381.9 466.3h0M384.1 466.3h0M386.2 466.3h0M388.3 466.3h0M390.4 466.3h0M392.6 466.3h0M394.7 466.3h0M396.8 466.3h0M398.9 466.3h0M322.4 462.4h0M324.6 462.4h0M326.7 462.4h0M328.8 462.4h0M330.9 462.4h0M333.1 462.4h0M335.2 462.4h0M337.3 462.4h0M339.4 462.4h0M341.6 462.4h0M343.7 462.4h0M345.8 462.4h0M347.9 462.4h0M350.1 462.4h0M352.2 462.4h0M354.3 462.4h0M356.4 462.4h0M358.6 462.4h0M360.7 462.4h0M362.8 462.4h0M364.9 462.4h0M367.1 462.4h0M369.2 462.4h0M371.3 462.4h0M373.4 462.4h0M375.6 462.4h0M377.7 462.4h0M379.8 462.4h0M381.9 462.4h0M384.1 462.4h0M386.2 462.4h0M388.3 462.4h0M390.4 462.4h0M392.6 462.4h0M394.7 462.4h0M396.8 462.4h0M398.9 462.4h0M401.1 462.4h0M322.4 458.5h0M324.6 458.5h0M326.7 458.5h0M328.8 458.5h0M330.9 458.5h0M333.1 458.5h0M335.2 458.5h0M337.3 458.5h0M339.4 458.5h0M341.6 458.5h0M343.7 458.5h0M345.8 458.5h0M347.9 458.5h0M350.1 458.5h0M352.2 458.5h0M354.3 458.5h0M356.4 458.5h0M358.6 458.5h0M360.7 458.5h0M362.8 458.5h0M364.9 458.5h0M367.1 458.5h0M369.2 458.5h0M371.3 458.5h0M373.4 458.5h0M375.6 458.5h0M377.7 458.5h0M379.8 458.5h0M381.9 458.5h0M384.1 458.5h0M386.2 458.5h0M388.3 458.5h0M390.4 458.5h0M392.6 458.5h0M394.7 458.5h0M396.8 458.5h0M398.9 458.5h0M322.4 454.6h0M326.7 454.6h0M328.8 454.6h0M330.9 454.6h0M333.1 454.6h0M335.2 454.6h0M337.3 454.6h0M339.4 454.6h0M341.6 454.6h0M343.7 454.6h0M345.8 454.6h0M347.9 454.6h0M350.1 454.6h0M352.2 454.6h0M354.3 454.6h0M356.4 454.6h0M358.6 454.6h0M360.7 454.6h0M362.8 454.6h0M364.9 454.6h0M367.1 454.6h0M369.2 454.6h0M371.3 454.6h0M373.4 454.6h0M375.6 454.6h0M377.7 454.6h0M379.8 454.6h0M381.9 454.6h0M384.1 454.6h0M386.2 454.6h0M388.3 454.6h0M390.4 454.6h0M392.6 454.6h0M394.7 454.6h0M396.8 454.6h0M398.9 454.6h0M322.4 450.7h0M324.6 450.7h0M326.7 450.7h0M330.9 450.7h0M333.1 450.7h0M335.2 450.7h0M337.3 450.7h0M339.4 450.7h0M341.6 450.7h0M345.8 450.7h0M347.9 450.7h0M350.1 450.7h0M352.2 450.7h0M354.3 450.7h0M356.4 450.7h0M358.6 450.7h0M360.7 450.7h0M362.8 450.7h0M364.9 450.7h0M367.1 450.7h0M369.2 450.7h0M371.3 450.7h0M373.4 450.7h0M375.6 450.7h0M377.7 450.7h0M379.8 450.7h0M381.9 450.7h0M384.1 450.7h0M386.2 450.7h0M388.3 450.7h0M390.4 450.7h0M392.6 450.7h0M394.7 450.7h0M396.8 450.7h0M398.9 450.7h0M324.6 446.7h0M328.8 446.7h0M333.1 446.7h0M337.3 446.7h0M339.4 446.7h0M341.6 446.7h0M343.7 446.7h0M345.8 446.7h0M347.9 446.7h0M350.1 446.7h0M352.2 446.7h0M354.3 446.7h0M362.8 446.7h0M364.9 446.7h0M367.1 446.7h0M369.2 446.7h0M371.3 446.7h0M373.4 446.7h0M375.6 446.7h0M377.7 446.7h0M379.8 446.7h0M381.9 446.7h0M384.1 446.7h0M386.2 446.7h0M388.3 446.7h0M390.4 446.7h0M392.6 446.7h0M394.7 446.7h0M396.8 446.7h0M398.9 446.7h0M324.6 442.8h0M330.9 442.8h0M333.1 442.8h0M339.4 442.8h0M345.8 442.8h0M347.9 442.8h0M350.1 442.8h0M352.2 442.8h0M354.3 442.8h0M356.4 442.8h0M360.7 442.8h0M362.8 442.8h0M364.9 442.8h0M367.1 442.8h0M369.2 442.8h0M371.3 442.8h0M373.4 442.8h0M377.7 442.8h0M381.9 442.8h0M384.1 442.8h0M386.2 442.8h0M388.3 442.8h0M390.4 442.8h0M392.6 442.8h0M394.7 442.8h0M396.8 442.8h0M398.9 442.8h0M324.6 438.9h0M335.2 438.9h0M337.3 438.9h0M350.1 438.9h0M356.4 438.9h0M364.9 438.9h0M367.1 438.9h0M369.2 438.9h0M373.4 438.9h0M375.6 438.9h0M377.7 438.9h0M384.1 438.9h0M386.2 438.9h0M388.3 438.9h0M347.9 435.0h0M350.1 435.0h0M354.3 435.0h0M367.1 435.0h0M388.3 435.0h0M390.4 435.0h0M339.4 431.1h0M350.1 431.1h0M381.9 431.1h0M388.3 431.1h0M392.6 431.1h0M384.1 427.1h0M360.7 419.3h0" stroke="#4972b6" stroke-width="1.7" stroke-linecap="round" fill="none"/><path d="M320.30 518.70v4.55M362.80 518.70v4.55M405.30 518.70v4.55M317.80 517.30h-4.55M317.80 497.70h-4.55M317.80 478.10h-4.55M317.80 458.50h-4.55M317.80 438.90h-4.55M317.80 419.30h-4.55" stroke="#1c1c1c" stroke-width="1.05" fill="none"/><text transform="translate(320.30 532.15) scale(1 1.08)" text-anchor="middle" font-size="8.8">940</text><text transform="translate(362.80 532.15) scale(1 1.08)" text-anchor="middle" font-size="8.8">960</text><text transform="translate(405.30 532.15) scale(1 1.08)" text-anchor="middle" font-size="8.8">980</text><text transform="translate(361.80 544.2) scale(1 1.08)" text-anchor="middle" font-size="9.25">air_pressure</text><path d="M454.00 413.70V518.70H542.00" fill="none" stroke="#1c1c1c" stroke-width="1.05" stroke-linecap="square"/><rect x="474.21" y="419.00" width="7.82" height="100.25" fill="#4c72b0" stroke="#fff" stroke-width=".55"/><rect x="482.03" y="501.80" width="7.82" height="17.45" fill="#4c72b0" stroke="#fff" stroke-width=".55"/><rect x="489.86" y="508.40" width="7.82" height="10.85" fill="#4c72b0" stroke="#fff" stroke-width=".55"/><rect x="497.68" y="508.70" width="7.82" height="10.55" fill="#4c72b0" stroke="#fff" stroke-width=".55"/><rect x="505.50" y="515.20" width="7.82" height="4.05" fill="#4c72b0" stroke="#fff" stroke-width=".55"/><rect x="513.33" y="518.00" width="7.82" height="1.25" fill="#4c72b0" stroke="#fff" stroke-width=".55"/><rect x="521.15" y="518.50" width="7.82" height="0.75" fill="#4c72b0" stroke="#fff" stroke-width=".55"/><rect x="528.98" y="518.60" width="7.82" height="0.65" fill="#4c72b0" stroke="#fff" stroke-width=".55"/><path d="M455.10 518.70v4.55M487.70 518.70v4.55M520.30 518.70v4.55M454.00 517.30h-4.55M454.00 497.70h-4.55M454.00 478.10h-4.55M454.00 458.50h-4.55M454.00 438.90h-4.55M454.00 419.30h-4.55" stroke="#1c1c1c" stroke-width="1.05" fill="none"/><text transform="translate(455.10 532.15) scale(1 1.08)" text-anchor="middle" font-size="8.8">0.0</text><text transform="translate(487.70 532.15) scale(1 1.08)" text-anchor="middle" font-size="8.8">0.1</text><text transform="translate(520.30 532.15) scale(1 1.08)" text-anchor="middle" font-size="8.8">0.2</text><text transform="translate(498.00 544.2) scale(1 1.08)" text-anchor="middle" font-size="9.25">airflow</text></svg></body></html>
